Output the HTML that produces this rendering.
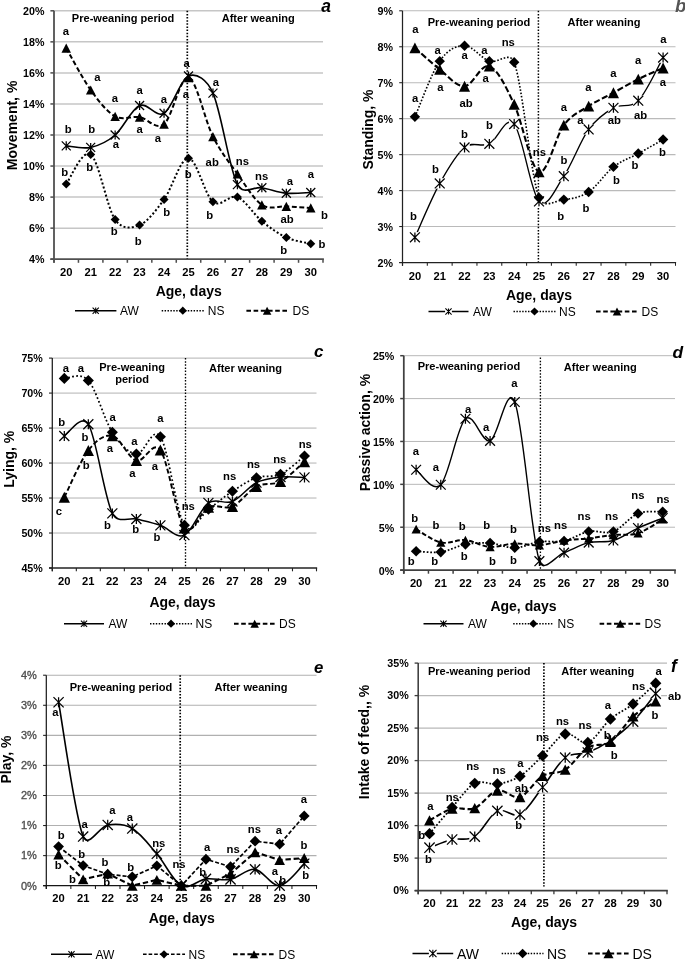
<!DOCTYPE html>
<html lang="en"><head><meta charset="utf-8"><title>Behaviour of piglets before and after weaning</title>
<style>html,body{margin:0;padding:0;background:#fff}body{width:685px;height:959px;overflow:hidden}svg{display:block;font-family:'Liberation Sans', sans-serif}</style></head><body>
<svg width="685" height="959" viewBox="0 0 685 959">
<rect width="685" height="959" fill="#fff"/>
<g>
<line x1="54" y1="228.15" x2="323" y2="228.15" stroke="#c6c6c6" stroke-width="1.5"/>
<line x1="54" y1="197.1" x2="323" y2="197.1" stroke="#c6c6c6" stroke-width="1.5"/>
<line x1="54" y1="166.05" x2="323" y2="166.05" stroke="#c6c6c6" stroke-width="1.5"/>
<line x1="54" y1="135" x2="323" y2="135" stroke="#c6c6c6" stroke-width="1.5"/>
<line x1="54" y1="103.95" x2="323" y2="103.95" stroke="#c6c6c6" stroke-width="1.5"/>
<line x1="54" y1="72.9" x2="323" y2="72.9" stroke="#c6c6c6" stroke-width="1.5"/>
<line x1="54" y1="41.85" x2="323" y2="41.85" stroke="#c6c6c6" stroke-width="1.5"/>
<line x1="54" y1="10.8" x2="323" y2="10.8" stroke="#c6c6c6" stroke-width="1.5"/>
<line x1="187.3" y1="10.8" x2="187.3" y2="259.2" stroke="#000" stroke-width="1.7" stroke-dasharray="1.5 1.63"/>
<line x1="54" y1="10.8" x2="54" y2="262.8" stroke="#505050" stroke-width="1.8"/>
<line x1="50.4" y1="259.2" x2="323.9" y2="259.2" stroke="#505050" stroke-width="1.8"/>
<line x1="50.4" y1="259.2" x2="54" y2="259.2" stroke="#505050" stroke-width="1.53"/>
<text x="44.5" y="263" text-anchor="end" font-size="10.7" font-weight="bold" fill="#000">4%</text>
<line x1="50.4" y1="228.15" x2="54" y2="228.15" stroke="#505050" stroke-width="1.53"/>
<text x="44.5" y="231.95" text-anchor="end" font-size="10.7" font-weight="bold" fill="#000">6%</text>
<line x1="50.4" y1="197.1" x2="54" y2="197.1" stroke="#505050" stroke-width="1.53"/>
<text x="44.5" y="200.9" text-anchor="end" font-size="10.7" font-weight="bold" fill="#000">8%</text>
<line x1="50.4" y1="166.05" x2="54" y2="166.05" stroke="#505050" stroke-width="1.53"/>
<text x="44.5" y="169.85" text-anchor="end" font-size="10.7" font-weight="bold" fill="#000">10%</text>
<line x1="50.4" y1="135" x2="54" y2="135" stroke="#505050" stroke-width="1.53"/>
<text x="44.5" y="138.8" text-anchor="end" font-size="10.7" font-weight="bold" fill="#000">12%</text>
<line x1="50.4" y1="103.95" x2="54" y2="103.95" stroke="#505050" stroke-width="1.53"/>
<text x="44.5" y="107.75" text-anchor="end" font-size="10.7" font-weight="bold" fill="#000">14%</text>
<line x1="50.4" y1="72.9" x2="54" y2="72.9" stroke="#505050" stroke-width="1.53"/>
<text x="44.5" y="76.7" text-anchor="end" font-size="10.7" font-weight="bold" fill="#000">16%</text>
<line x1="50.4" y1="41.85" x2="54" y2="41.85" stroke="#505050" stroke-width="1.53"/>
<text x="44.5" y="45.65" text-anchor="end" font-size="10.7" font-weight="bold" fill="#000">18%</text>
<line x1="50.4" y1="10.8" x2="54" y2="10.8" stroke="#505050" stroke-width="1.53"/>
<text x="44.5" y="14.6" text-anchor="end" font-size="10.7" font-weight="bold" fill="#000">20%</text>
<line x1="54" y1="259.2" x2="54" y2="262.8" stroke="#505050" stroke-width="1.53"/>
<line x1="78.45" y1="259.2" x2="78.45" y2="262.8" stroke="#505050" stroke-width="1.53"/>
<line x1="102.91" y1="259.2" x2="102.91" y2="262.8" stroke="#505050" stroke-width="1.53"/>
<line x1="127.36" y1="259.2" x2="127.36" y2="262.8" stroke="#505050" stroke-width="1.53"/>
<line x1="151.82" y1="259.2" x2="151.82" y2="262.8" stroke="#505050" stroke-width="1.53"/>
<line x1="176.27" y1="259.2" x2="176.27" y2="262.8" stroke="#505050" stroke-width="1.53"/>
<line x1="200.73" y1="259.2" x2="200.73" y2="262.8" stroke="#505050" stroke-width="1.53"/>
<line x1="225.18" y1="259.2" x2="225.18" y2="262.8" stroke="#505050" stroke-width="1.53"/>
<line x1="249.64" y1="259.2" x2="249.64" y2="262.8" stroke="#505050" stroke-width="1.53"/>
<line x1="274.09" y1="259.2" x2="274.09" y2="262.8" stroke="#505050" stroke-width="1.53"/>
<line x1="298.55" y1="259.2" x2="298.55" y2="262.8" stroke="#505050" stroke-width="1.53"/>
<line x1="323" y1="259.2" x2="323" y2="262.8" stroke="#505050" stroke-width="1.53"/>
<text x="66.23" y="276" text-anchor="middle" font-size="11.2" font-weight="bold">20</text>
<text x="90.68" y="276" text-anchor="middle" font-size="11.2" font-weight="bold">21</text>
<text x="115.14" y="276" text-anchor="middle" font-size="11.2" font-weight="bold">22</text>
<text x="139.59" y="276" text-anchor="middle" font-size="11.2" font-weight="bold">23</text>
<text x="164.05" y="276" text-anchor="middle" font-size="11.2" font-weight="bold">24</text>
<text x="188.5" y="276" text-anchor="middle" font-size="11.2" font-weight="bold">25</text>
<text x="212.95" y="276" text-anchor="middle" font-size="11.2" font-weight="bold">26</text>
<text x="237.41" y="276" text-anchor="middle" font-size="11.2" font-weight="bold">27</text>
<text x="261.86" y="276" text-anchor="middle" font-size="11.2" font-weight="bold">28</text>
<text x="286.32" y="276" text-anchor="middle" font-size="11.2" font-weight="bold">29</text>
<text x="310.77" y="276" text-anchor="middle" font-size="11.2" font-weight="bold">30</text>
<path d="M66.23,145.87 C70.3,146.13 82.53,149.23 90.68,147.42 C98.83,145.61 106.98,141.99 115.14,135 C123.29,128.01 131.44,109.12 139.59,105.5 C147.74,101.88 155.89,118.18 164.05,113.26 C172.2,108.35 180.35,79.37 188.5,76 C196.65,72.64 206.83,79.48 212.95,93.08 C221.11,111.2 229.26,168.9 237.41,184.68 C243.06,195.63 253.71,186.36 261.86,187.78 C270.02,189.21 278.17,192.44 286.32,193.22 C294.47,194 306.7,192.57 310.77,192.44" fill="none" stroke="#000" stroke-width="1.6"/>
<path d="M61.73,141.37 L70.73,150.37 M61.73,150.37 L70.73,141.37 M66.23,141.37 L66.23,150.37" stroke="#000" stroke-width="1.25" fill="none"/>
<path d="M86.18,142.92 L95.18,151.92 M86.18,151.92 L95.18,142.92 M90.68,142.92 L90.68,151.92" stroke="#000" stroke-width="1.25" fill="none"/>
<path d="M110.64,130.5 L119.64,139.5 M110.64,139.5 L119.64,130.5 M115.14,130.5 L115.14,139.5" stroke="#000" stroke-width="1.25" fill="none"/>
<path d="M135.09,101 L144.09,110 M135.09,110 L144.09,101 M139.59,101 L139.59,110" stroke="#000" stroke-width="1.25" fill="none"/>
<path d="M159.55,108.76 L168.55,117.76 M159.55,117.76 L168.55,108.76 M164.05,108.76 L164.05,117.76" stroke="#000" stroke-width="1.25" fill="none"/>
<path d="M184,71.5 L193,80.5 M184,80.5 L193,71.5 M188.5,71.5 L188.5,80.5" stroke="#000" stroke-width="1.25" fill="none"/>
<path d="M208.45,88.58 L217.45,97.58 M208.45,97.58 L217.45,88.58 M212.95,88.58 L212.95,97.58" stroke="#000" stroke-width="1.25" fill="none"/>
<path d="M232.91,180.18 L241.91,189.18 M232.91,189.18 L241.91,180.18 M237.41,180.18 L237.41,189.18" stroke="#000" stroke-width="1.25" fill="none"/>
<path d="M257.36,183.28 L266.36,192.28 M257.36,192.28 L266.36,183.28 M261.86,183.28 L261.86,192.28" stroke="#000" stroke-width="1.25" fill="none"/>
<path d="M281.82,188.72 L290.82,197.72 M281.82,197.72 L290.82,188.72 M286.32,188.72 L286.32,197.72" stroke="#000" stroke-width="1.25" fill="none"/>
<path d="M306.27,187.94 L315.27,196.94 M306.27,196.94 L315.27,187.94 M310.77,187.94 L310.77,196.94" stroke="#000" stroke-width="1.25" fill="none"/>
<path d="M66.23,183.9 C70.3,178.99 82.53,148.46 90.68,154.41 C98.83,160.36 106.98,207.84 115.14,219.61 C122.27,229.91 131.44,228.41 139.59,225.04 C147.74,221.68 155.89,210.56 164.05,199.43 C172.2,188.3 180.35,157.9 188.5,158.29 C196.65,158.68 204.8,195.29 212.95,201.76 C221.11,208.23 229.26,193.87 237.41,197.1 C245.56,200.33 253.71,214.44 261.86,221.16 C270.02,227.89 278.17,233.71 286.32,237.46 C294.47,241.22 306.7,242.64 310.77,243.67" fill="none" stroke="#000" stroke-width="2" stroke-dasharray="2 2.2"/>
<path d="M66.23,179.4 L70.73,183.9 L66.23,188.4 L61.73,183.9Z" fill="#000"/>
<path d="M90.68,149.91 L95.18,154.41 L90.68,158.91 L86.18,154.41Z" fill="#000"/>
<path d="M115.14,215.11 L119.64,219.61 L115.14,224.11 L110.64,219.61Z" fill="#000"/>
<path d="M139.59,220.54 L144.09,225.04 L139.59,229.54 L135.09,225.04Z" fill="#000"/>
<path d="M164.05,194.93 L168.55,199.43 L164.05,203.93 L159.55,199.43Z" fill="#000"/>
<path d="M188.5,153.79 L193,158.29 L188.5,162.79 L184,158.29Z" fill="#000"/>
<path d="M212.95,197.26 L217.45,201.76 L212.95,206.26 L208.45,201.76Z" fill="#000"/>
<path d="M237.41,192.6 L241.91,197.1 L237.41,201.6 L232.91,197.1Z" fill="#000"/>
<path d="M261.86,216.66 L266.36,221.16 L261.86,225.66 L257.36,221.16Z" fill="#000"/>
<path d="M286.32,232.96 L290.82,237.46 L286.32,241.96 L281.82,237.46Z" fill="#000"/>
<path d="M310.77,239.17 L315.27,243.67 L310.77,248.17 L306.27,243.67Z" fill="#000"/>
<path d="M66.23,48.06 C70.3,55.05 82.53,78.59 90.68,89.98 C98.83,101.36 106.98,111.84 115.14,116.37 C123.29,120.9 131.44,115.85 139.59,117.15 C147.74,118.44 155.89,130.73 164.05,124.13 C172.2,117.53 180.35,75.49 188.5,77.56 C196.65,79.63 204.8,120.51 212.95,136.55 C221.11,152.59 229.26,162.43 237.41,173.81 C245.56,185.2 253.71,199.43 261.86,204.86 C270.02,210.3 278.17,205.9 286.32,206.41 C294.47,206.93 306.7,207.71 310.77,207.97" fill="none" stroke="#000" stroke-width="2" stroke-dasharray="4.8 2.6"/>
<path d="M66.23,43.46 L70.98,52.66 L61.48,52.66Z" fill="#000"/>
<path d="M90.68,85.38 L95.43,94.58 L85.93,94.58Z" fill="#000"/>
<path d="M115.14,111.77 L119.89,120.97 L110.39,120.97Z" fill="#000"/>
<path d="M139.59,112.55 L144.34,121.75 L134.84,121.75Z" fill="#000"/>
<path d="M164.05,119.53 L168.8,128.73 L159.3,128.73Z" fill="#000"/>
<path d="M188.5,72.96 L193.25,82.16 L183.75,82.16Z" fill="#000"/>
<path d="M212.95,131.95 L217.7,141.15 L208.2,141.15Z" fill="#000"/>
<path d="M237.41,169.21 L242.16,178.41 L232.66,178.41Z" fill="#000"/>
<path d="M261.86,200.26 L266.61,209.46 L257.11,209.46Z" fill="#000"/>
<path d="M286.32,201.81 L291.07,211.01 L281.57,211.01Z" fill="#000"/>
<path d="M310.77,203.37 L315.52,212.57 L306.02,212.57Z" fill="#000"/>
<text x="188.7" y="296" text-anchor="middle" font-size="14" font-weight="bold">Age, days</text>
<text transform="translate(17,125.4) rotate(-90) scale(1,1)" text-anchor="middle" font-size="14" font-weight="bold">Movement, %</text>
<text x="123.1" y="22.4" text-anchor="middle" font-size="11.05" font-weight="bold">Pre-weaning period</text>
<text x="258.2" y="22.4" text-anchor="middle" font-size="11.05" font-weight="bold">After weaning</text>
<text x="321.3" y="12.2" font-size="17.5" font-weight="bold" font-style="italic" fill="#000">a</text>
<text x="66" y="34.7" text-anchor="middle" font-size="11.3" font-weight="bold">a</text>
<text x="97.5" y="80.7" text-anchor="middle" font-size="11.3" font-weight="bold">a</text>
<text x="115" y="101.7" text-anchor="middle" font-size="11.3" font-weight="bold">a</text>
<text x="139.7" y="93.7" text-anchor="middle" font-size="11.3" font-weight="bold">a</text>
<text x="163.8" y="103.2" text-anchor="middle" font-size="11.3" font-weight="bold">a</text>
<text x="68.3" y="133.1" text-anchor="middle" font-size="11.3" font-weight="bold">b</text>
<text x="91.7" y="133.1" text-anchor="middle" font-size="11.3" font-weight="bold">b</text>
<text x="116" y="147.7" text-anchor="middle" font-size="11.3" font-weight="bold">a</text>
<text x="139.7" y="132.7" text-anchor="middle" font-size="11.3" font-weight="bold">a</text>
<text x="157.8" y="141.7" text-anchor="middle" font-size="11.3" font-weight="bold">a</text>
<text x="186.6" y="67.3" text-anchor="middle" font-size="11.3" font-weight="bold">a</text>
<text x="216" y="85.7" text-anchor="middle" font-size="11.3" font-weight="bold">a</text>
<text x="185.8" y="97.7" text-anchor="middle" font-size="11.3" font-weight="bold">a</text>
<text x="64.6" y="175.5" text-anchor="middle" font-size="11.3" font-weight="bold">b</text>
<text x="89.7" y="170.5" text-anchor="middle" font-size="11.3" font-weight="bold">b</text>
<text x="114.3" y="235.3" text-anchor="middle" font-size="11.3" font-weight="bold">b</text>
<text x="138.2" y="244.7" text-anchor="middle" font-size="11.3" font-weight="bold">b</text>
<text x="166.6" y="215.7" text-anchor="middle" font-size="11.3" font-weight="bold">b</text>
<text x="188.3" y="178" text-anchor="middle" font-size="11.3" font-weight="bold">b</text>
<text x="212.2" y="165.7" text-anchor="middle" font-size="11.3" font-weight="bold">ab</text>
<text x="242.4" y="165.2" text-anchor="middle" font-size="11.3" font-weight="bold">ns</text>
<text x="261.7" y="179.5" text-anchor="middle" font-size="11.3" font-weight="bold">ns</text>
<text x="290" y="185.3" text-anchor="middle" font-size="11.3" font-weight="bold">a</text>
<text x="311" y="177.7" text-anchor="middle" font-size="11.3" font-weight="bold">a</text>
<text x="209.7" y="218.5" text-anchor="middle" font-size="11.3" font-weight="bold">b</text>
<text x="287" y="223.2" text-anchor="middle" font-size="11.3" font-weight="bold">ab</text>
<text x="324.5" y="218.5" text-anchor="middle" font-size="11.3" font-weight="bold">b</text>
<text x="283.8" y="254.2" text-anchor="middle" font-size="11.3" font-weight="bold">b</text>
<text x="322" y="247.7" text-anchor="middle" font-size="11.3" font-weight="bold">b</text>
<line x1="75" y1="310.7" x2="116.4" y2="310.7" stroke="#000" stroke-width="1.6"/>
<path d="M92.6,307.6 L98.8,313.8 M92.6,313.8 L98.8,307.6 M95.7,307.6 L95.7,313.8" stroke="#000" stroke-width="1.1" fill="none"/>
<text x="120" y="315.02" font-size="12">AW</text>
<line x1="161.7" y1="310.7" x2="203.9" y2="310.7" stroke="#000" stroke-width="1.5" stroke-dasharray="1.45 1.45"/>
<path d="M182.8,306.6 L186.9,310.7 L182.8,314.8 L178.7,310.7Z" fill="#000"/>
<text x="207.8" y="315.02" font-size="12">NS</text>
<line x1="246.4" y1="310.7" x2="287.8" y2="310.7" stroke="#000" stroke-width="2" stroke-dasharray="4.6 2.6"/>
<path d="M267.1,306.75 L271.35,314.65 L262.85,314.65Z" fill="#000"/>
<text x="292.6" y="315.02" font-size="12">DS</text>
</g>
<g>
<line x1="402.5" y1="226.54" x2="675.5" y2="226.54" stroke="#bababa" stroke-width="1.1"/>
<line x1="402.5" y1="190.59" x2="675.5" y2="190.59" stroke="#bababa" stroke-width="1.1"/>
<line x1="402.5" y1="154.63" x2="675.5" y2="154.63" stroke="#bababa" stroke-width="1.1"/>
<line x1="402.5" y1="118.67" x2="675.5" y2="118.67" stroke="#bababa" stroke-width="1.1"/>
<line x1="402.5" y1="82.71" x2="675.5" y2="82.71" stroke="#bababa" stroke-width="1.1"/>
<line x1="402.5" y1="46.76" x2="675.5" y2="46.76" stroke="#bababa" stroke-width="1.1"/>
<line x1="402.5" y1="10.8" x2="675.5" y2="10.8" stroke="#bababa" stroke-width="1.1"/>
<line x1="538.4" y1="10.8" x2="538.4" y2="262.5" stroke="#000" stroke-width="1.5" stroke-dasharray="1.5 1.63"/>
<line x1="402.5" y1="10.8" x2="402.5" y2="265.8" stroke="#222" stroke-width="1.25"/>
<line x1="399.2" y1="262.5" x2="676.12" y2="262.5" stroke="#222" stroke-width="1.25"/>
<line x1="399.2" y1="262.5" x2="402.5" y2="262.5" stroke="#222" stroke-width="1.0625"/>
<text x="393" y="266.9" text-anchor="end" font-size="10.7" font-weight="bold" fill="#000">2%</text>
<line x1="399.2" y1="226.54" x2="402.5" y2="226.54" stroke="#222" stroke-width="1.0625"/>
<text x="393" y="230.94" text-anchor="end" font-size="10.7" font-weight="bold" fill="#000">3%</text>
<line x1="399.2" y1="190.59" x2="402.5" y2="190.59" stroke="#222" stroke-width="1.0625"/>
<text x="393" y="194.99" text-anchor="end" font-size="10.7" font-weight="bold" fill="#000">4%</text>
<line x1="399.2" y1="154.63" x2="402.5" y2="154.63" stroke="#222" stroke-width="1.0625"/>
<text x="393" y="159.03" text-anchor="end" font-size="10.7" font-weight="bold" fill="#000">5%</text>
<line x1="399.2" y1="118.67" x2="402.5" y2="118.67" stroke="#222" stroke-width="1.0625"/>
<text x="393" y="123.07" text-anchor="end" font-size="10.7" font-weight="bold" fill="#000">6%</text>
<line x1="399.2" y1="82.71" x2="402.5" y2="82.71" stroke="#222" stroke-width="1.0625"/>
<text x="393" y="87.11" text-anchor="end" font-size="10.7" font-weight="bold" fill="#000">7%</text>
<line x1="399.2" y1="46.76" x2="402.5" y2="46.76" stroke="#222" stroke-width="1.0625"/>
<text x="393" y="51.16" text-anchor="end" font-size="10.7" font-weight="bold" fill="#000">8%</text>
<line x1="399.2" y1="10.8" x2="402.5" y2="10.8" stroke="#222" stroke-width="1.0625"/>
<text x="393" y="15.2" text-anchor="end" font-size="10.7" font-weight="bold" fill="#000">9%</text>
<line x1="402.5" y1="262.5" x2="402.5" y2="265.8" stroke="#222" stroke-width="1.0625"/>
<line x1="427.32" y1="262.5" x2="427.32" y2="265.8" stroke="#222" stroke-width="1.0625"/>
<line x1="452.14" y1="262.5" x2="452.14" y2="265.8" stroke="#222" stroke-width="1.0625"/>
<line x1="476.95" y1="262.5" x2="476.95" y2="265.8" stroke="#222" stroke-width="1.0625"/>
<line x1="501.77" y1="262.5" x2="501.77" y2="265.8" stroke="#222" stroke-width="1.0625"/>
<line x1="526.59" y1="262.5" x2="526.59" y2="265.8" stroke="#222" stroke-width="1.0625"/>
<line x1="551.41" y1="262.5" x2="551.41" y2="265.8" stroke="#222" stroke-width="1.0625"/>
<line x1="576.23" y1="262.5" x2="576.23" y2="265.8" stroke="#222" stroke-width="1.0625"/>
<line x1="601.05" y1="262.5" x2="601.05" y2="265.8" stroke="#222" stroke-width="1.0625"/>
<line x1="625.86" y1="262.5" x2="625.86" y2="265.8" stroke="#222" stroke-width="1.0625"/>
<line x1="650.68" y1="262.5" x2="650.68" y2="265.8" stroke="#222" stroke-width="1.0625"/>
<line x1="675.5" y1="262.5" x2="675.5" y2="265.8" stroke="#222" stroke-width="1.0625"/>
<text x="414.91" y="280" text-anchor="middle" font-size="11.2" font-weight="bold">20</text>
<text x="439.73" y="280" text-anchor="middle" font-size="11.2" font-weight="bold">21</text>
<text x="464.55" y="280" text-anchor="middle" font-size="11.2" font-weight="bold">22</text>
<text x="489.36" y="280" text-anchor="middle" font-size="11.2" font-weight="bold">23</text>
<text x="514.18" y="280" text-anchor="middle" font-size="11.2" font-weight="bold">24</text>
<text x="539" y="280" text-anchor="middle" font-size="11.2" font-weight="bold">25</text>
<text x="563.82" y="280" text-anchor="middle" font-size="11.2" font-weight="bold">26</text>
<text x="588.64" y="280" text-anchor="middle" font-size="11.2" font-weight="bold">27</text>
<text x="613.45" y="280" text-anchor="middle" font-size="11.2" font-weight="bold">28</text>
<text x="638.27" y="280" text-anchor="middle" font-size="11.2" font-weight="bold">29</text>
<text x="663.09" y="280" text-anchor="middle" font-size="11.2" font-weight="bold">30</text>
<path d="M414.91,237.33 C419.05,228.34 431.45,198.38 439.73,183.39 C448,168.41 456.27,154.03 464.55,147.44 C472.82,140.84 481.09,147.74 489.36,143.84 C497.64,139.95 505.91,114.48 514.18,124.07 C522.45,133.65 530.73,192.68 539,201.37 C547.27,210.06 555.55,188.19 563.82,176.2 C572.09,164.22 580.36,140.84 588.64,129.46 C596.91,118.07 605.18,112.68 613.45,107.88 C621.73,103.09 630,109.08 638.27,100.69 C646.55,92.3 658.95,64.74 663.09,57.54" fill="none" stroke="#000" stroke-width="1.35"/>
<rect x="409.66" y="232.08" width="10.5" height="10.5" fill="#fff"/><path d="M409.96,232.38 L419.86,242.28 M409.96,242.28 L419.86,232.38 M414.91,232.38 L414.91,242.28" stroke="#000" stroke-width="1.25" fill="none"/>
<rect x="434.48" y="178.14" width="10.5" height="10.5" fill="#fff"/><path d="M434.78,178.44 L444.68,188.34 M434.78,188.34 L444.68,178.44 M439.73,178.44 L439.73,188.34" stroke="#000" stroke-width="1.25" fill="none"/>
<rect x="459.3" y="142.19" width="10.5" height="10.5" fill="#fff"/><path d="M459.6,142.49 L469.5,152.39 M459.6,152.39 L469.5,142.49 M464.55,142.49 L464.55,152.39" stroke="#000" stroke-width="1.25" fill="none"/>
<rect x="484.11" y="138.59" width="10.5" height="10.5" fill="#fff"/><path d="M484.41,138.89 L494.31,148.79 M484.41,148.79 L494.31,138.89 M489.36,138.89 L489.36,148.79" stroke="#000" stroke-width="1.25" fill="none"/>
<rect x="508.93" y="118.82" width="10.5" height="10.5" fill="#fff"/><path d="M509.23,119.12 L519.13,129.02 M509.23,129.02 L519.13,119.12 M514.18,119.12 L514.18,129.02" stroke="#000" stroke-width="1.25" fill="none"/>
<rect x="533.75" y="196.12" width="10.5" height="10.5" fill="#fff"/><path d="M534.05,196.42 L543.95,206.32 M534.05,206.32 L543.95,196.42 M539,196.42 L539,206.32" stroke="#000" stroke-width="1.25" fill="none"/>
<rect x="558.57" y="170.95" width="10.5" height="10.5" fill="#fff"/><path d="M558.87,171.25 L568.77,181.15 M558.87,181.15 L568.77,171.25 M563.82,171.25 L563.82,181.15" stroke="#000" stroke-width="1.25" fill="none"/>
<rect x="583.39" y="124.21" width="10.5" height="10.5" fill="#fff"/><path d="M583.69,124.51 L593.59,134.41 M583.69,134.41 L593.59,124.51 M588.64,124.51 L588.64,134.41" stroke="#000" stroke-width="1.25" fill="none"/>
<rect x="608.2" y="102.63" width="10.5" height="10.5" fill="#fff"/><path d="M608.5,102.93 L618.4,112.83 M608.5,112.83 L618.4,102.93 M613.45,102.93 L613.45,112.83" stroke="#000" stroke-width="1.25" fill="none"/>
<rect x="633.02" y="95.44" width="10.5" height="10.5" fill="#fff"/><path d="M633.32,95.74 L643.22,105.64 M633.32,105.64 L643.22,95.74 M638.27,95.74 L638.27,105.64" stroke="#000" stroke-width="1.25" fill="none"/>
<rect x="657.84" y="52.29" width="10.5" height="10.5" fill="#fff"/><path d="M658.14,52.59 L668.04,62.49 M658.14,62.49 L668.04,52.59 M663.09,52.59 L663.09,62.49" stroke="#000" stroke-width="1.25" fill="none"/>
<path d="M414.91,116.87 C419.05,107.58 431.45,73.01 439.73,61.14 C448,49.27 456.27,45.68 464.55,45.68 C472.82,45.68 481.09,58.38 489.36,61.14 C497.64,63.9 509.94,50.54 514.18,62.22 C522.45,84.99 530.73,174.88 539,197.78 C543.23,209.48 555.55,200.53 563.82,199.57 C572.09,198.62 580.36,197.48 588.64,192.02 C596.91,186.57 605.18,173.27 613.45,166.85 C621.73,160.44 630,158.1 638.27,153.55 C646.55,149 658.95,141.86 663.09,139.53" fill="none" stroke="#000" stroke-width="1.65" stroke-dasharray="1.6 1.8"/>
<path d="M414.91,111.67 L420.11,116.87 L414.91,122.07 L409.71,116.87Z" fill="#000"/>
<path d="M439.73,55.94 L444.93,61.14 L439.73,66.34 L434.53,61.14Z" fill="#000"/>
<path d="M464.55,40.48 L469.75,45.68 L464.55,50.88 L459.35,45.68Z" fill="#000"/>
<path d="M489.36,55.94 L494.56,61.14 L489.36,66.34 L484.16,61.14Z" fill="#000"/>
<path d="M514.18,57.02 L519.38,62.22 L514.18,67.42 L508.98,62.22Z" fill="#000"/>
<path d="M539,192.58 L544.2,197.78 L539,202.98 L533.8,197.78Z" fill="#000"/>
<path d="M563.82,194.38 L569.02,199.57 L563.82,204.77 L558.62,199.57Z" fill="#000"/>
<path d="M588.64,186.82 L593.84,192.02 L588.64,197.22 L583.44,192.02Z" fill="#000"/>
<path d="M613.45,161.65 L618.65,166.85 L613.45,172.05 L608.25,166.85Z" fill="#000"/>
<path d="M638.27,148.35 L643.47,153.55 L638.27,158.75 L633.07,153.55Z" fill="#000"/>
<path d="M663.09,134.33 L668.29,139.53 L663.09,144.73 L657.89,139.53Z" fill="#000"/>
<path d="M414.91,47.84 C419.05,51.43 431.45,63 439.73,69.41 C448,75.82 456.27,86.85 464.55,86.31 C472.82,85.77 481.09,63.18 489.36,66.17 C497.64,69.17 505.91,86.67 514.18,104.29 C522.45,121.91 530.73,168.41 539,171.89 C547.27,175.36 555.55,136.11 563.82,125.14 C572.09,114.18 580.36,111.48 588.64,106.09 C596.91,100.69 605.18,97.28 613.45,92.78 C621.73,88.29 630,83.25 638.27,79.12 C646.55,74.98 658.95,69.83 663.09,67.97" fill="none" stroke="#000" stroke-width="2.1" stroke-dasharray="6.2 2.6"/>
<path d="M414.91,42.39 L420.46,53.29 L409.36,53.29Z" fill="#000"/>
<path d="M439.73,63.96 L445.28,74.86 L434.18,74.86Z" fill="#000"/>
<path d="M464.55,80.86 L470.1,91.76 L459,91.76Z" fill="#000"/>
<path d="M489.36,60.72 L494.91,71.62 L483.81,71.62Z" fill="#000"/>
<path d="M514.18,98.84 L519.73,109.74 L508.63,109.74Z" fill="#000"/>
<path d="M539,166.44 L544.55,177.34 L533.45,177.34Z" fill="#000"/>
<path d="M563.82,119.69 L569.37,130.59 L558.27,130.59Z" fill="#000"/>
<path d="M588.64,100.64 L594.19,111.54 L583.09,111.54Z" fill="#000"/>
<path d="M613.45,87.33 L619,98.23 L607.9,98.23Z" fill="#000"/>
<path d="M638.27,73.67 L643.82,84.57 L632.72,84.57Z" fill="#000"/>
<path d="M663.09,62.52 L668.64,73.42 L657.54,73.42Z" fill="#000"/>
<text x="539" y="300" text-anchor="middle" font-size="14" font-weight="bold">Age, days</text>
<text transform="translate(372.6,129.6) rotate(-90) scale(1,1.09)" text-anchor="middle" font-size="14" font-weight="bold">Standing, %</text>
<text x="479" y="26" text-anchor="middle" font-size="11.05" font-weight="bold">Pre-weaning period</text>
<text x="604" y="26.3" text-anchor="middle" font-size="11.05" font-weight="bold">After weaning</text>
<text x="675" y="12.3" font-size="18.5" font-weight="bold" font-style="italic" fill="#555">b</text>
<text x="415.4" y="33.4" text-anchor="middle" font-size="11.3" font-weight="bold">a</text>
<text x="437.7" y="53.7" text-anchor="middle" font-size="11.3" font-weight="bold">a</text>
<text x="464.6" y="59.2" text-anchor="middle" font-size="11.3" font-weight="bold">a</text>
<text x="484.5" y="53.7" text-anchor="middle" font-size="11.3" font-weight="bold">a</text>
<text x="508.3" y="45.9" text-anchor="middle" font-size="11.3" font-weight="bold">ns</text>
<text x="440.5" y="90.7" text-anchor="middle" font-size="11.3" font-weight="bold">a</text>
<text x="485.7" y="81.7" text-anchor="middle" font-size="11.3" font-weight="bold">a</text>
<text x="415.1" y="102.4" text-anchor="middle" font-size="11.3" font-weight="bold">a</text>
<text x="466.1" y="106.7" text-anchor="middle" font-size="11.3" font-weight="bold">ab</text>
<text x="464.4" y="137.7" text-anchor="middle" font-size="11.3" font-weight="bold">b</text>
<text x="489.5" y="129.3" text-anchor="middle" font-size="11.3" font-weight="bold">b</text>
<text x="435.5" y="172.5" text-anchor="middle" font-size="11.3" font-weight="bold">b</text>
<text x="413.4" y="220.2" text-anchor="middle" font-size="11.3" font-weight="bold">b</text>
<text x="663.3" y="42.9" text-anchor="middle" font-size="11.3" font-weight="bold">a</text>
<text x="638.1" y="64.3" text-anchor="middle" font-size="11.3" font-weight="bold">a</text>
<text x="613.5" y="77.3" text-anchor="middle" font-size="11.3" font-weight="bold">a</text>
<text x="588.4" y="91.1" text-anchor="middle" font-size="11.3" font-weight="bold">a</text>
<text x="564" y="110.7" text-anchor="middle" font-size="11.3" font-weight="bold">a</text>
<text x="580.3" y="123.7" text-anchor="middle" font-size="11.3" font-weight="bold">a</text>
<text x="663" y="85.7" text-anchor="middle" font-size="11.3" font-weight="bold">a</text>
<text x="614.3" y="123.5" text-anchor="middle" font-size="11.3" font-weight="bold">ab</text>
<text x="640.6" y="118.5" text-anchor="middle" font-size="11.3" font-weight="bold">ab</text>
<text x="539.4" y="155.5" text-anchor="middle" font-size="11.3" font-weight="bold">ns</text>
<text x="662.5" y="155.7" text-anchor="middle" font-size="11.3" font-weight="bold">b</text>
<text x="564" y="163.7" text-anchor="middle" font-size="11.3" font-weight="bold">b</text>
<text x="634.9" y="169.2" text-anchor="middle" font-size="11.3" font-weight="bold">b</text>
<text x="616.5" y="183.7" text-anchor="middle" font-size="11.3" font-weight="bold">b</text>
<text x="585.9" y="212.2" text-anchor="middle" font-size="11.3" font-weight="bold">b</text>
<text x="560.7" y="220.2" text-anchor="middle" font-size="11.3" font-weight="bold">b</text>
<line x1="428.5" y1="311.5" x2="468.5" y2="311.5" stroke="#000" stroke-width="1.6"/>
<rect x="445.1" y="308.1" width="6.8" height="6.8" fill="#fff"/><path d="M445.4,308.4 L451.6,314.6 M445.4,314.6 L451.6,308.4 M448.5,308.4 L448.5,314.6" stroke="#000" stroke-width="1.1" fill="none"/>
<text x="473" y="315.82" font-size="12">AW</text>
<line x1="513.5" y1="311.5" x2="555.5" y2="311.5" stroke="#000" stroke-width="1.5" stroke-dasharray="1.45 1.45"/>
<path d="M534.5,307.4 L538.6,311.5 L534.5,315.6 L530.4,311.5Z" fill="#000"/>
<text x="559" y="315.82" font-size="12">NS</text>
<line x1="596" y1="311.5" x2="638" y2="311.5" stroke="#000" stroke-width="2" stroke-dasharray="4.6 2.6"/>
<path d="M617,307.55 L621.25,315.45 L612.75,315.45Z" fill="#000"/>
<text x="641.5" y="315.82" font-size="12">DS</text>
</g>
<g>
<line x1="52.3" y1="533.02" x2="316.5" y2="533.02" stroke="#b2b2b2" stroke-width="1.0"/>
<line x1="52.3" y1="498.03" x2="316.5" y2="498.03" stroke="#b2b2b2" stroke-width="1.0"/>
<line x1="52.3" y1="463.05" x2="316.5" y2="463.05" stroke="#b2b2b2" stroke-width="1.0"/>
<line x1="52.3" y1="428.07" x2="316.5" y2="428.07" stroke="#b2b2b2" stroke-width="1.0"/>
<line x1="52.3" y1="393.08" x2="316.5" y2="393.08" stroke="#b2b2b2" stroke-width="1.0"/>
<line x1="52.3" y1="358.1" x2="316.5" y2="358.1" stroke="#b2b2b2" stroke-width="1.0"/>
<line x1="185.5" y1="358.1" x2="185.5" y2="568" stroke="#000" stroke-width="1.35" stroke-dasharray="1.5 1.63"/>
<line x1="52.3" y1="358.1" x2="52.3" y2="571.3" stroke="#222" stroke-width="1.3"/>
<line x1="49" y1="568" x2="317.15" y2="568" stroke="#222" stroke-width="1.3"/>
<line x1="49" y1="568" x2="52.3" y2="568" stroke="#222" stroke-width="1.105"/>
<text x="42.8" y="571.8" text-anchor="end" font-size="10.7" font-weight="bold" fill="#000">45%</text>
<line x1="49" y1="533.02" x2="52.3" y2="533.02" stroke="#222" stroke-width="1.105"/>
<text x="42.8" y="536.82" text-anchor="end" font-size="10.7" font-weight="bold" fill="#000">50%</text>
<line x1="49" y1="498.03" x2="52.3" y2="498.03" stroke="#222" stroke-width="1.105"/>
<text x="42.8" y="501.83" text-anchor="end" font-size="10.7" font-weight="bold" fill="#000">55%</text>
<line x1="49" y1="463.05" x2="52.3" y2="463.05" stroke="#222" stroke-width="1.105"/>
<text x="42.8" y="466.85" text-anchor="end" font-size="10.7" font-weight="bold" fill="#000">60%</text>
<line x1="49" y1="428.07" x2="52.3" y2="428.07" stroke="#222" stroke-width="1.105"/>
<text x="42.8" y="431.87" text-anchor="end" font-size="10.7" font-weight="bold" fill="#000">65%</text>
<line x1="49" y1="393.08" x2="52.3" y2="393.08" stroke="#222" stroke-width="1.105"/>
<text x="42.8" y="396.88" text-anchor="end" font-size="10.7" font-weight="bold" fill="#000">70%</text>
<line x1="49" y1="358.1" x2="52.3" y2="358.1" stroke="#222" stroke-width="1.105"/>
<text x="42.8" y="361.9" text-anchor="end" font-size="10.7" font-weight="bold" fill="#000">75%</text>
<line x1="52.3" y1="568" x2="52.3" y2="571.3" stroke="#222" stroke-width="1.105"/>
<line x1="76.32" y1="568" x2="76.32" y2="571.3" stroke="#222" stroke-width="1.105"/>
<line x1="100.34" y1="568" x2="100.34" y2="571.3" stroke="#222" stroke-width="1.105"/>
<line x1="124.35" y1="568" x2="124.35" y2="571.3" stroke="#222" stroke-width="1.105"/>
<line x1="148.37" y1="568" x2="148.37" y2="571.3" stroke="#222" stroke-width="1.105"/>
<line x1="172.39" y1="568" x2="172.39" y2="571.3" stroke="#222" stroke-width="1.105"/>
<line x1="196.41" y1="568" x2="196.41" y2="571.3" stroke="#222" stroke-width="1.105"/>
<line x1="220.43" y1="568" x2="220.43" y2="571.3" stroke="#222" stroke-width="1.105"/>
<line x1="244.45" y1="568" x2="244.45" y2="571.3" stroke="#222" stroke-width="1.105"/>
<line x1="268.46" y1="568" x2="268.46" y2="571.3" stroke="#222" stroke-width="1.105"/>
<line x1="292.48" y1="568" x2="292.48" y2="571.3" stroke="#222" stroke-width="1.105"/>
<line x1="316.5" y1="568" x2="316.5" y2="571.3" stroke="#222" stroke-width="1.105"/>
<text x="64.31" y="585" text-anchor="middle" font-size="11.2" font-weight="bold">20</text>
<text x="88.33" y="585" text-anchor="middle" font-size="11.2" font-weight="bold">21</text>
<text x="112.35" y="585" text-anchor="middle" font-size="11.2" font-weight="bold">22</text>
<text x="136.36" y="585" text-anchor="middle" font-size="11.2" font-weight="bold">23</text>
<text x="160.38" y="585" text-anchor="middle" font-size="11.2" font-weight="bold">24</text>
<text x="184.4" y="585" text-anchor="middle" font-size="11.2" font-weight="bold">25</text>
<text x="208.42" y="585" text-anchor="middle" font-size="11.2" font-weight="bold">26</text>
<text x="232.44" y="585" text-anchor="middle" font-size="11.2" font-weight="bold">27</text>
<text x="256.45" y="585" text-anchor="middle" font-size="11.2" font-weight="bold">28</text>
<text x="280.47" y="585" text-anchor="middle" font-size="11.2" font-weight="bold">29</text>
<text x="304.49" y="585" text-anchor="middle" font-size="11.2" font-weight="bold">30</text>
<path d="M64.31,435.97 C68.31,434.01 81.28,412.86 88.33,424.22 C96.33,437.13 104.34,497.63 112.35,513.43 C117.92,524.43 128.36,517.04 136.36,519.02 C144.37,521.01 152.38,522.64 160.38,525.32 C168.39,528 176.39,538.85 184.4,535.12 C192.41,531.38 200.41,508.53 208.42,502.93 C216.42,497.33 224.43,504.91 232.44,501.53 C240.44,498.15 248.45,486.72 256.45,482.64 C264.46,478.56 272.47,477.92 280.47,477.04 C288.48,476.17 300.49,477.33 304.49,477.39" fill="none" stroke="#000" stroke-width="1.5"/>
<path d="M59.31,430.97 L69.31,440.97 M59.31,440.97 L69.31,430.97 M64.31,430.97 L64.31,440.97" stroke="#000" stroke-width="1.25" fill="none"/>
<path d="M83.33,419.22 L93.33,429.22 M83.33,429.22 L93.33,419.22 M88.33,419.22 L88.33,429.22" stroke="#000" stroke-width="1.25" fill="none"/>
<path d="M107.35,508.43 L117.35,518.43 M107.35,518.43 L117.35,508.43 M112.35,508.43 L112.35,518.43" stroke="#000" stroke-width="1.25" fill="none"/>
<path d="M131.36,514.02 L141.36,524.02 M131.36,524.02 L141.36,514.02 M136.36,514.02 L136.36,524.02" stroke="#000" stroke-width="1.25" fill="none"/>
<path d="M155.38,520.32 L165.38,530.32 M155.38,530.32 L165.38,520.32 M160.38,520.32 L160.38,530.32" stroke="#000" stroke-width="1.25" fill="none"/>
<path d="M179.4,530.12 L189.4,540.12 M179.4,540.12 L189.4,530.12 M184.4,530.12 L184.4,540.12" stroke="#000" stroke-width="1.25" fill="none"/>
<path d="M203.42,497.93 L213.42,507.93 M203.42,507.93 L213.42,497.93 M208.42,497.93 L208.42,507.93" stroke="#000" stroke-width="1.25" fill="none"/>
<path d="M227.44,496.53 L237.44,506.53 M227.44,506.53 L237.44,496.53 M232.44,496.53 L232.44,506.53" stroke="#000" stroke-width="1.25" fill="none"/>
<path d="M251.45,477.64 L261.45,487.64 M251.45,487.64 L261.45,477.64 M256.45,477.64 L256.45,487.64" stroke="#000" stroke-width="1.25" fill="none"/>
<path d="M275.47,472.04 L285.47,482.04 M275.47,482.04 L285.47,472.04 M280.47,472.04 L280.47,482.04" stroke="#000" stroke-width="1.25" fill="none"/>
<path d="M299.49,472.39 L309.49,482.39 M299.49,482.39 L309.49,472.39 M304.49,472.39 L304.49,482.39" stroke="#000" stroke-width="1.25" fill="none"/>
<path d="M64.31,378.39 C68.31,378.74 80.32,371.51 88.33,380.49 C96.33,389.47 104.34,420.02 112.35,432.26 C120.35,444.51 128.36,453.21 136.36,453.95 C144.37,454.7 152.38,424.85 160.38,436.74 C168.39,448.64 176.39,513.24 184.4,525.32 C192.39,537.37 200.41,514.91 208.42,509.23 C216.42,503.55 224.43,496.49 232.44,491.25 C240.44,486 248.45,480.58 256.45,477.74 C264.46,474.91 272.47,477.86 280.47,474.24 C288.48,470.63 300.49,459.09 304.49,456.05" fill="none" stroke="#000" stroke-width="1.75" stroke-dasharray="1.75 2.3"/>
<path d="M64.31,372.84 L69.86,378.39 L64.31,383.94 L58.76,378.39Z" fill="#000"/>
<path d="M88.33,374.94 L93.88,380.49 L88.33,386.04 L82.78,380.49Z" fill="#000"/>
<path d="M112.35,426.71 L117.9,432.26 L112.35,437.81 L106.8,432.26Z" fill="#000"/>
<path d="M136.36,448.4 L141.91,453.95 L136.36,459.5 L130.81,453.95Z" fill="#000"/>
<path d="M160.38,431.19 L165.93,436.74 L160.38,442.29 L154.83,436.74Z" fill="#000"/>
<path d="M184.4,519.77 L189.95,525.32 L184.4,530.87 L178.85,525.32Z" fill="#000"/>
<path d="M208.42,503.68 L213.97,509.23 L208.42,514.78 L202.87,509.23Z" fill="#000"/>
<path d="M232.44,485.7 L237.99,491.25 L232.44,496.8 L226.89,491.25Z" fill="#000"/>
<path d="M256.45,472.19 L262,477.74 L256.45,483.29 L250.9,477.74Z" fill="#000"/>
<path d="M280.47,468.69 L286.02,474.24 L280.47,479.79 L274.92,474.24Z" fill="#000"/>
<path d="M304.49,450.5 L310.04,456.05 L304.49,461.6 L298.94,456.05Z" fill="#000"/>
<path d="M64.31,497.33 C68.31,489.52 80.32,460.72 88.33,450.46 C96.33,440.19 104.34,434.07 112.35,435.76 C120.35,437.45 128.36,458.22 136.36,460.6 C144.37,462.98 152.78,439.35 160.38,450.04 C168.39,461.29 176.39,518.6 184.4,528.12 C192.41,537.63 200.41,510.74 208.42,507.13 C216.42,503.51 224.43,509.87 232.44,506.43 C240.44,502.99 248.45,490.64 256.45,486.49 C264.46,482.34 272.47,485.66 280.47,481.52 C288.48,477.38 300.49,464.96 304.49,461.65" fill="none" stroke="#000" stroke-width="1.9" stroke-dasharray="5 2.6"/>
<path d="M64.31,491.83 L69.96,502.83 L58.66,502.83Z" fill="#000"/>
<path d="M88.33,444.96 L93.98,455.96 L82.68,455.96Z" fill="#000"/>
<path d="M112.35,430.26 L118,441.26 L106.7,441.26Z" fill="#000"/>
<path d="M136.36,455.1 L142.01,466.1 L130.71,466.1Z" fill="#000"/>
<path d="M160.38,444.54 L166.03,455.54 L154.73,455.54Z" fill="#000"/>
<path d="M184.4,522.62 L190.05,533.62 L178.75,533.62Z" fill="#000"/>
<path d="M208.42,501.63 L214.07,512.63 L202.77,512.63Z" fill="#000"/>
<path d="M232.44,500.93 L238.09,511.93 L226.79,511.93Z" fill="#000"/>
<path d="M256.45,480.99 L262.1,491.99 L250.8,491.99Z" fill="#000"/>
<path d="M280.47,476.02 L286.12,487.02 L274.82,487.02Z" fill="#000"/>
<path d="M304.49,456.15 L310.14,467.15 L298.84,467.15Z" fill="#000"/>
<text x="182.5" y="607" text-anchor="middle" font-size="14" font-weight="bold">Age, days</text>
<text transform="translate(14.2,459.3) rotate(-90) scale(1,1)" text-anchor="middle" font-size="14" font-weight="bold">Lying, %</text>
<text x="132.1" y="370.5" text-anchor="middle" font-size="11.05" font-weight="bold">Pre-weaning</text>
<text x="132.1" y="382.8" text-anchor="middle" font-size="11.05" font-weight="bold">period</text>
<text x="245.5" y="371.6" text-anchor="middle" font-size="11.05" font-weight="bold">After weaning</text>
<text x="314" y="357" font-size="17" font-weight="bold" font-style="italic" fill="#000">c</text>
<text x="65.8" y="371.7" text-anchor="middle" font-size="11.3" font-weight="bold">a</text>
<text x="80.9" y="371.7" text-anchor="middle" font-size="11.3" font-weight="bold">a</text>
<text x="112.6" y="421.1" text-anchor="middle" font-size="11.3" font-weight="bold">a</text>
<text x="160.3" y="422.4" text-anchor="middle" font-size="11.3" font-weight="bold">a</text>
<text x="61.6" y="425.9" text-anchor="middle" font-size="11.3" font-weight="bold">b</text>
<text x="84.9" y="440.5" text-anchor="middle" font-size="11.3" font-weight="bold">b</text>
<text x="134.4" y="445" text-anchor="middle" font-size="11.3" font-weight="bold">a</text>
<text x="110" y="452" text-anchor="middle" font-size="11.3" font-weight="bold">a</text>
<text x="86.2" y="469.4" text-anchor="middle" font-size="11.3" font-weight="bold">b</text>
<text x="155" y="470.4" text-anchor="middle" font-size="11.3" font-weight="bold">a</text>
<text x="132.4" y="477.2" text-anchor="middle" font-size="11.3" font-weight="bold">a</text>
<text x="59" y="515.4" text-anchor="middle" font-size="11.3" font-weight="bold">c</text>
<text x="107.5" y="529.4" text-anchor="middle" font-size="11.3" font-weight="bold">b</text>
<text x="135.7" y="532.7" text-anchor="middle" font-size="11.3" font-weight="bold">b</text>
<text x="157" y="541" text-anchor="middle" font-size="11.3" font-weight="bold">b</text>
<text x="188.3" y="509.5" text-anchor="middle" font-size="11.3" font-weight="bold">ns</text>
<text x="205.5" y="492" text-anchor="middle" font-size="11.3" font-weight="bold">ns</text>
<text x="229.6" y="479.6" text-anchor="middle" font-size="11.3" font-weight="bold">ns</text>
<text x="253.5" y="467.9" text-anchor="middle" font-size="11.3" font-weight="bold">ns</text>
<text x="279.8" y="462.9" text-anchor="middle" font-size="11.3" font-weight="bold">ns</text>
<text x="305.3" y="447.7" text-anchor="middle" font-size="11.3" font-weight="bold">ns</text>
<line x1="64" y1="623.7" x2="104" y2="623.7" stroke="#000" stroke-width="1.6"/>
<path d="M80.9,620.6 L87.1,626.8 M80.9,626.8 L87.1,620.6 M84,620.6 L84,626.8" stroke="#000" stroke-width="1.1" fill="none"/>
<text x="108.5" y="628.02" font-size="12">AW</text>
<line x1="150" y1="623.7" x2="192" y2="623.7" stroke="#000" stroke-width="1.5" stroke-dasharray="1.45 1.45"/>
<path d="M171,619.6 L175.1,623.7 L171,627.8 L166.9,623.7Z" fill="#000"/>
<text x="195.5" y="628.02" font-size="12">NS</text>
<line x1="234" y1="623.7" x2="275.3" y2="623.7" stroke="#000" stroke-width="2" stroke-dasharray="4.6 2.6"/>
<path d="M254.65,619.75 L258.9,627.65 L250.4,627.65Z" fill="#000"/>
<text x="279" y="628.02" font-size="12">DS</text>
</g>
<g>
<line x1="403.8" y1="527.22" x2="675" y2="527.22" stroke="#b0b0b0" stroke-width="0.9"/>
<line x1="403.8" y1="484.34" x2="675" y2="484.34" stroke="#b0b0b0" stroke-width="0.9"/>
<line x1="403.8" y1="441.46" x2="675" y2="441.46" stroke="#b0b0b0" stroke-width="0.9"/>
<line x1="403.8" y1="398.58" x2="675" y2="398.58" stroke="#b0b0b0" stroke-width="0.9"/>
<line x1="403.8" y1="355.7" x2="675" y2="355.7" stroke="#b0b0b0" stroke-width="0.9"/>
<line x1="540.4" y1="357.5" x2="540.4" y2="570.1" stroke="#000" stroke-width="1.35" stroke-dasharray="1.5 1.63"/>
<line x1="403.8" y1="355.7" x2="403.8" y2="573.7" stroke="#404040" stroke-width="1.75"/>
<line x1="400.2" y1="570.1" x2="675.88" y2="570.1" stroke="#404040" stroke-width="1.75"/>
<line x1="400.2" y1="570.1" x2="403.8" y2="570.1" stroke="#404040" stroke-width="1.4875"/>
<text x="394.3" y="574.6" text-anchor="end" font-size="10.7" font-weight="bold" fill="#000">0%</text>
<line x1="400.2" y1="527.22" x2="403.8" y2="527.22" stroke="#404040" stroke-width="1.4875"/>
<text x="394.3" y="531.72" text-anchor="end" font-size="10.7" font-weight="bold" fill="#000">5%</text>
<line x1="400.2" y1="484.34" x2="403.8" y2="484.34" stroke="#404040" stroke-width="1.4875"/>
<text x="394.3" y="488.84" text-anchor="end" font-size="10.7" font-weight="bold" fill="#000">10%</text>
<line x1="400.2" y1="441.46" x2="403.8" y2="441.46" stroke="#404040" stroke-width="1.4875"/>
<text x="394.3" y="445.96" text-anchor="end" font-size="10.7" font-weight="bold" fill="#000">15%</text>
<line x1="400.2" y1="398.58" x2="403.8" y2="398.58" stroke="#404040" stroke-width="1.4875"/>
<text x="394.3" y="403.08" text-anchor="end" font-size="10.7" font-weight="bold" fill="#000">20%</text>
<line x1="400.2" y1="355.7" x2="403.8" y2="355.7" stroke="#404040" stroke-width="1.4875"/>
<text x="394.3" y="360.2" text-anchor="end" font-size="10.7" font-weight="bold" fill="#000">25%</text>
<line x1="403.8" y1="570.1" x2="403.8" y2="573.7" stroke="#404040" stroke-width="1.4875"/>
<line x1="428.45" y1="570.1" x2="428.45" y2="573.7" stroke="#404040" stroke-width="1.4875"/>
<line x1="453.11" y1="570.1" x2="453.11" y2="573.7" stroke="#404040" stroke-width="1.4875"/>
<line x1="477.76" y1="570.1" x2="477.76" y2="573.7" stroke="#404040" stroke-width="1.4875"/>
<line x1="502.42" y1="570.1" x2="502.42" y2="573.7" stroke="#404040" stroke-width="1.4875"/>
<line x1="527.07" y1="570.1" x2="527.07" y2="573.7" stroke="#404040" stroke-width="1.4875"/>
<line x1="551.73" y1="570.1" x2="551.73" y2="573.7" stroke="#404040" stroke-width="1.4875"/>
<line x1="576.38" y1="570.1" x2="576.38" y2="573.7" stroke="#404040" stroke-width="1.4875"/>
<line x1="601.04" y1="570.1" x2="601.04" y2="573.7" stroke="#404040" stroke-width="1.4875"/>
<line x1="625.69" y1="570.1" x2="625.69" y2="573.7" stroke="#404040" stroke-width="1.4875"/>
<line x1="650.35" y1="570.1" x2="650.35" y2="573.7" stroke="#404040" stroke-width="1.4875"/>
<line x1="675" y1="570.1" x2="675" y2="573.7" stroke="#404040" stroke-width="1.4875"/>
<text x="416.13" y="587" text-anchor="middle" font-size="11.2" font-weight="bold">20</text>
<text x="440.78" y="587" text-anchor="middle" font-size="11.2" font-weight="bold">21</text>
<text x="465.44" y="587" text-anchor="middle" font-size="11.2" font-weight="bold">22</text>
<text x="490.09" y="587" text-anchor="middle" font-size="11.2" font-weight="bold">23</text>
<text x="514.75" y="587" text-anchor="middle" font-size="11.2" font-weight="bold">24</text>
<text x="539.4" y="587" text-anchor="middle" font-size="11.2" font-weight="bold">25</text>
<text x="564.05" y="587" text-anchor="middle" font-size="11.2" font-weight="bold">26</text>
<text x="588.71" y="587" text-anchor="middle" font-size="11.2" font-weight="bold">27</text>
<text x="613.36" y="587" text-anchor="middle" font-size="11.2" font-weight="bold">28</text>
<text x="638.02" y="587" text-anchor="middle" font-size="11.2" font-weight="bold">29</text>
<text x="662.67" y="587" text-anchor="middle" font-size="11.2" font-weight="bold">30</text>
<path d="M416.13,469.76 C420.24,472.26 432.56,493.27 440.78,484.77 C449,476.26 457.22,426.05 465.44,418.73 C473.65,411.42 481.87,443.65 490.09,440.86 C498.31,438.07 506.53,381.96 514.75,402.01 C522.96,422.06 531.18,536.07 539.4,561.18 C543.45,573.57 555.84,555.78 564.05,552.69 C572.27,549.6 580.49,544.69 588.71,542.66 C596.93,540.63 605.15,542.94 613.36,540.51 C621.58,538.08 629.8,531.82 638.02,528.08 C646.24,524.33 658.56,519.72 662.67,518.04" fill="none" stroke="#000" stroke-width="1.4"/>
<path d="M411.23,464.86 L421.03,474.66 M411.23,474.66 L421.03,464.86 M416.13,464.86 L416.13,474.66" stroke="#000" stroke-width="1.25" fill="none"/>
<path d="M435.88,479.87 L445.68,489.67 M435.88,489.67 L445.68,479.87 M440.78,479.87 L440.78,489.67" stroke="#000" stroke-width="1.25" fill="none"/>
<path d="M460.54,413.83 L470.34,423.63 M460.54,423.63 L470.34,413.83 M465.44,413.83 L465.44,423.63" stroke="#000" stroke-width="1.25" fill="none"/>
<path d="M485.19,435.96 L494.99,445.76 M485.19,445.76 L494.99,435.96 M490.09,435.96 L490.09,445.76" stroke="#000" stroke-width="1.25" fill="none"/>
<path d="M509.85,397.11 L519.65,406.91 M509.85,406.91 L519.65,397.11 M514.75,397.11 L514.75,406.91" stroke="#000" stroke-width="1.25" fill="none"/>
<path d="M534.5,556.28 L544.3,566.08 M534.5,566.08 L544.3,556.28 M539.4,556.28 L539.4,566.08" stroke="#000" stroke-width="1.25" fill="none"/>
<path d="M559.15,547.79 L568.95,557.59 M559.15,557.59 L568.95,547.79 M564.05,547.79 L564.05,557.59" stroke="#000" stroke-width="1.25" fill="none"/>
<path d="M583.81,537.76 L593.61,547.56 M583.81,547.56 L593.61,537.76 M588.71,537.76 L588.71,547.56" stroke="#000" stroke-width="1.25" fill="none"/>
<path d="M608.46,535.61 L618.26,545.41 M608.46,545.41 L618.26,535.61 M613.36,535.61 L613.36,545.41" stroke="#000" stroke-width="1.25" fill="none"/>
<path d="M633.12,523.18 L642.92,532.98 M633.12,532.98 L642.92,523.18 M638.02,523.18 L638.02,532.98" stroke="#000" stroke-width="1.25" fill="none"/>
<path d="M657.77,513.14 L667.57,522.94 M657.77,522.94 L667.57,513.14 M662.67,513.14 L662.67,522.94" stroke="#000" stroke-width="1.25" fill="none"/>
<path d="M416.13,551.23 C420.24,551.38 432.56,553.23 440.78,552.09 C449,550.95 457.22,545.87 465.44,544.37 C473.65,542.87 481.87,542.51 490.09,543.09 C498.31,543.66 506.53,548.02 514.75,547.8 C522.96,547.59 531.18,542.94 539.4,541.8 C547.62,540.66 555.84,542.66 564.05,540.94 C572.27,539.23 580.49,533.08 588.71,531.51 C596.93,529.94 605.15,534.51 613.36,531.51 C621.58,528.51 629.8,516.79 638.02,513.5 C646.24,510.21 658.56,512.07 662.67,511.78" fill="none" stroke="#000" stroke-width="1.75" stroke-dasharray="1.7 1.85"/>
<path d="M416.13,545.93 L421.43,551.23 L416.13,556.53 L410.83,551.23Z" fill="#000"/>
<path d="M440.78,546.79 L446.08,552.09 L440.78,557.39 L435.48,552.09Z" fill="#000"/>
<path d="M465.44,539.07 L470.74,544.37 L465.44,549.67 L460.14,544.37Z" fill="#000"/>
<path d="M490.09,537.79 L495.39,543.09 L490.09,548.39 L484.79,543.09Z" fill="#000"/>
<path d="M514.75,542.5 L520.05,547.8 L514.75,553.1 L509.45,547.8Z" fill="#000"/>
<path d="M539.4,536.5 L544.7,541.8 L539.4,547.1 L534.1,541.8Z" fill="#000"/>
<path d="M564.05,535.64 L569.35,540.94 L564.05,546.24 L558.75,540.94Z" fill="#000"/>
<path d="M588.71,526.21 L594.01,531.51 L588.71,536.81 L583.41,531.51Z" fill="#000"/>
<path d="M613.36,526.21 L618.66,531.51 L613.36,536.81 L608.06,531.51Z" fill="#000"/>
<path d="M638.02,508.2 L643.32,513.5 L638.02,518.8 L632.72,513.5Z" fill="#000"/>
<path d="M662.67,506.48 L667.97,511.78 L662.67,517.08 L657.37,511.78Z" fill="#000"/>
<path d="M416.13,529.11 C420.24,531.34 432.56,540.66 440.78,542.49 C449,544.31 457.22,539.34 465.44,540.08 C473.65,540.83 481.87,546.37 490.09,546.94 C498.31,547.52 506.53,543.8 514.75,543.51 C522.96,543.23 531.18,545.73 539.4,545.23 C547.62,544.73 555.84,541.66 564.05,540.51 C572.27,539.37 580.49,539.3 588.71,538.37 C596.93,537.44 605.15,535.8 613.36,534.94 C621.58,534.08 629.8,535.84 638.02,533.22 C646.24,530.61 658.56,521.57 662.67,519.24" fill="none" stroke="#000" stroke-width="1.95" stroke-dasharray="4.8 2.3"/>
<path d="M416.13,524.76 L420.73,533.46 L411.53,533.46Z" fill="#000"/>
<path d="M440.78,538.14 L445.38,546.84 L436.18,546.84Z" fill="#000"/>
<path d="M465.44,535.73 L470.04,544.43 L460.84,544.43Z" fill="#000"/>
<path d="M490.09,542.59 L494.69,551.29 L485.49,551.29Z" fill="#000"/>
<path d="M514.75,539.16 L519.35,547.86 L510.15,547.86Z" fill="#000"/>
<path d="M539.4,540.88 L544,549.58 L534.8,549.58Z" fill="#000"/>
<path d="M564.05,536.16 L568.65,544.86 L559.45,544.86Z" fill="#000"/>
<path d="M588.71,534.02 L593.31,542.72 L584.11,542.72Z" fill="#000"/>
<path d="M613.36,530.59 L617.96,539.29 L608.76,539.29Z" fill="#000"/>
<path d="M638.02,528.87 L642.62,537.57 L633.42,537.57Z" fill="#000"/>
<path d="M662.67,514.89 L667.27,523.59 L658.07,523.59Z" fill="#000"/>
<text x="523.5" y="611" text-anchor="middle" font-size="14" font-weight="bold">Age, days</text>
<text transform="translate(370.2,432.6) rotate(-90) scale(1,1.08)" text-anchor="middle" font-size="14" font-weight="bold">Passive action, %</text>
<text x="468.9" y="370.3" text-anchor="middle" font-size="11.05" font-weight="bold">Pre-weaning period</text>
<text x="600.3" y="370.6" text-anchor="middle" font-size="11.05" font-weight="bold">After weaning</text>
<text x="672.4" y="357.5" font-size="17.4" font-weight="bold" font-style="italic" fill="#000">d</text>
<text x="415.9" y="455.1" text-anchor="middle" font-size="11.3" font-weight="bold">a</text>
<text x="436" y="470.9" text-anchor="middle" font-size="11.3" font-weight="bold">a</text>
<text x="468.1" y="413.1" text-anchor="middle" font-size="11.3" font-weight="bold">a</text>
<text x="486.2" y="430.7" text-anchor="middle" font-size="11.3" font-weight="bold">a</text>
<text x="514.5" y="386.7" text-anchor="middle" font-size="11.3" font-weight="bold">a</text>
<text x="414.6" y="521.9" text-anchor="middle" font-size="11.3" font-weight="bold">b</text>
<text x="436" y="529.4" text-anchor="middle" font-size="11.3" font-weight="bold">b</text>
<text x="462.3" y="530.2" text-anchor="middle" font-size="11.3" font-weight="bold">b</text>
<text x="486.7" y="528.9" text-anchor="middle" font-size="11.3" font-weight="bold">b</text>
<text x="513.4" y="533.2" text-anchor="middle" font-size="11.3" font-weight="bold">b</text>
<text x="411.3" y="565.4" text-anchor="middle" font-size="11.3" font-weight="bold">b</text>
<text x="434.7" y="564.6" text-anchor="middle" font-size="11.3" font-weight="bold">b</text>
<text x="464.1" y="560.3" text-anchor="middle" font-size="11.3" font-weight="bold">b</text>
<text x="492.5" y="564.6" text-anchor="middle" font-size="11.3" font-weight="bold">b</text>
<text x="513.4" y="563.6" text-anchor="middle" font-size="11.3" font-weight="bold">b</text>
<text x="544.4" y="531.7" text-anchor="middle" font-size="11.3" font-weight="bold">ns</text>
<text x="560.7" y="529.2" text-anchor="middle" font-size="11.3" font-weight="bold">ns</text>
<text x="584.1" y="519.7" text-anchor="middle" font-size="11.3" font-weight="bold">ns</text>
<text x="611.7" y="520.4" text-anchor="middle" font-size="11.3" font-weight="bold">ns</text>
<text x="637.9" y="498.5" text-anchor="middle" font-size="11.3" font-weight="bold">ns</text>
<text x="663" y="502.8" text-anchor="middle" font-size="11.3" font-weight="bold">ns</text>
<line x1="423.5" y1="623.7" x2="463.5" y2="623.7" stroke="#000" stroke-width="1.6"/>
<path d="M440.4,620.6 L446.6,626.8 M440.4,626.8 L446.6,620.6 M443.5,620.6 L443.5,626.8" stroke="#000" stroke-width="1.1" fill="none"/>
<text x="468" y="628.02" font-size="12">AW</text>
<line x1="513.2" y1="623.7" x2="553.5" y2="623.7" stroke="#000" stroke-width="1.5" stroke-dasharray="1.45 1.45"/>
<path d="M533.35,619.6 L537.45,623.7 L533.35,627.8 L529.25,623.7Z" fill="#000"/>
<text x="557.5" y="628.02" font-size="12">NS</text>
<line x1="599.6" y1="623.7" x2="641" y2="623.7" stroke="#000" stroke-width="2" stroke-dasharray="4.6 2.6"/>
<path d="M620.3,619.75 L624.55,627.65 L616.05,627.65Z" fill="#000"/>
<text x="644.5" y="628.02" font-size="12">DS</text>
</g>
<g>
<line x1="46.3" y1="855.63" x2="316.5" y2="855.63" stroke="#b0b0b0" stroke-width="1.1"/>
<line x1="46.3" y1="825.56" x2="316.5" y2="825.56" stroke="#b0b0b0" stroke-width="1.1"/>
<line x1="46.3" y1="795.49" x2="316.5" y2="795.49" stroke="#b0b0b0" stroke-width="1.1"/>
<line x1="46.3" y1="765.41" x2="316.5" y2="765.41" stroke="#b0b0b0" stroke-width="1.1"/>
<line x1="46.3" y1="735.34" x2="316.5" y2="735.34" stroke="#b0b0b0" stroke-width="1.1"/>
<line x1="46.3" y1="705.27" x2="316.5" y2="705.27" stroke="#b0b0b0" stroke-width="1.1"/>
<line x1="46.3" y1="675.2" x2="316.5" y2="675.2" stroke="#b0b0b0" stroke-width="1.1"/>
<line x1="180.2" y1="675.2" x2="180.2" y2="885.7" stroke="#000" stroke-width="1.7" stroke-dasharray="1.5 1.63"/>
<line x1="46.3" y1="675.2" x2="46.3" y2="888.9" stroke="#151515" stroke-width="1.2"/>
<line x1="43.1" y1="885.7" x2="317.1" y2="885.7" stroke="#151515" stroke-width="1.2"/>
<line x1="43.1" y1="885.7" x2="46.3" y2="885.7" stroke="#151515" stroke-width="1.02"/>
<text x="36.8" y="889.5" text-anchor="end" font-size="11" font-weight="normal" fill="#505050" stroke="#505050" stroke-width="0.35">0%</text>
<line x1="43.1" y1="855.63" x2="46.3" y2="855.63" stroke="#151515" stroke-width="1.02"/>
<text x="36.8" y="859.43" text-anchor="end" font-size="11" font-weight="normal" fill="#505050" stroke="#505050" stroke-width="0.35">1%</text>
<line x1="43.1" y1="825.56" x2="46.3" y2="825.56" stroke="#151515" stroke-width="1.02"/>
<text x="36.8" y="829.36" text-anchor="end" font-size="11" font-weight="normal" fill="#505050" stroke="#505050" stroke-width="0.35">1%</text>
<line x1="43.1" y1="795.49" x2="46.3" y2="795.49" stroke="#151515" stroke-width="1.02"/>
<text x="36.8" y="799.29" text-anchor="end" font-size="11" font-weight="normal" fill="#505050" stroke="#505050" stroke-width="0.35">2%</text>
<line x1="43.1" y1="765.41" x2="46.3" y2="765.41" stroke="#151515" stroke-width="1.02"/>
<text x="36.8" y="769.21" text-anchor="end" font-size="11" font-weight="normal" fill="#505050" stroke="#505050" stroke-width="0.35">2%</text>
<line x1="43.1" y1="735.34" x2="46.3" y2="735.34" stroke="#151515" stroke-width="1.02"/>
<text x="36.8" y="739.14" text-anchor="end" font-size="11" font-weight="normal" fill="#505050" stroke="#505050" stroke-width="0.35">3%</text>
<line x1="43.1" y1="705.27" x2="46.3" y2="705.27" stroke="#151515" stroke-width="1.02"/>
<text x="36.8" y="709.07" text-anchor="end" font-size="11" font-weight="normal" fill="#505050" stroke="#505050" stroke-width="0.35">3%</text>
<line x1="43.1" y1="675.2" x2="46.3" y2="675.2" stroke="#151515" stroke-width="1.02"/>
<text x="36.8" y="679" text-anchor="end" font-size="11" font-weight="normal" fill="#505050" stroke="#505050" stroke-width="0.35">4%</text>
<line x1="46.3" y1="885.7" x2="46.3" y2="888.9" stroke="#151515" stroke-width="1.02"/>
<line x1="70.86" y1="885.7" x2="70.86" y2="888.9" stroke="#151515" stroke-width="1.02"/>
<line x1="95.43" y1="885.7" x2="95.43" y2="888.9" stroke="#151515" stroke-width="1.02"/>
<line x1="119.99" y1="885.7" x2="119.99" y2="888.9" stroke="#151515" stroke-width="1.02"/>
<line x1="144.55" y1="885.7" x2="144.55" y2="888.9" stroke="#151515" stroke-width="1.02"/>
<line x1="169.12" y1="885.7" x2="169.12" y2="888.9" stroke="#151515" stroke-width="1.02"/>
<line x1="193.68" y1="885.7" x2="193.68" y2="888.9" stroke="#151515" stroke-width="1.02"/>
<line x1="218.25" y1="885.7" x2="218.25" y2="888.9" stroke="#151515" stroke-width="1.02"/>
<line x1="242.81" y1="885.7" x2="242.81" y2="888.9" stroke="#151515" stroke-width="1.02"/>
<line x1="267.37" y1="885.7" x2="267.37" y2="888.9" stroke="#151515" stroke-width="1.02"/>
<line x1="291.94" y1="885.7" x2="291.94" y2="888.9" stroke="#151515" stroke-width="1.02"/>
<line x1="316.5" y1="885.7" x2="316.5" y2="888.9" stroke="#151515" stroke-width="1.02"/>
<text x="58.58" y="902.3" text-anchor="middle" font-size="11.2" font-weight="bold">20</text>
<text x="83.15" y="902.3" text-anchor="middle" font-size="11.2" font-weight="bold">21</text>
<text x="107.71" y="902.3" text-anchor="middle" font-size="11.2" font-weight="bold">22</text>
<text x="132.27" y="902.3" text-anchor="middle" font-size="11.2" font-weight="bold">23</text>
<text x="156.84" y="902.3" text-anchor="middle" font-size="11.2" font-weight="bold">24</text>
<text x="181.4" y="902.3" text-anchor="middle" font-size="11.2" font-weight="bold">25</text>
<text x="205.96" y="902.3" text-anchor="middle" font-size="11.2" font-weight="bold">26</text>
<text x="230.53" y="902.3" text-anchor="middle" font-size="11.2" font-weight="bold">27</text>
<text x="255.09" y="902.3" text-anchor="middle" font-size="11.2" font-weight="bold">28</text>
<text x="279.65" y="902.3" text-anchor="middle" font-size="11.2" font-weight="bold">29</text>
<text x="304.22" y="902.3" text-anchor="middle" font-size="11.2" font-weight="bold">30</text>
<path d="M58.58,702.26 C62.68,724.65 74.96,816.11 83.15,836.56 C88.19,849.17 99.52,826.29 107.71,824.96 C115.9,823.62 124.08,823.75 132.27,828.56 C140.46,833.38 148.65,844.3 156.84,853.82 C165.02,863.35 173.21,881.52 181.4,885.7 C189.59,889.88 197.78,879.96 205.96,878.9 C214.15,877.85 222.34,880.98 230.53,879.38 C238.72,877.79 246.9,868.29 255.09,869.34 C263.28,870.39 271.47,886.63 279.65,885.7 C287.84,884.77 300.12,867.41 304.22,863.75" fill="none" stroke="#000" stroke-width="1.6"/>
<path d="M53.48,697.16 L63.68,707.36 M53.48,707.36 L63.68,697.16 M58.58,697.16 L58.58,707.36" stroke="#000" stroke-width="1.25" fill="none"/>
<path d="M78.05,831.46 L88.25,841.66 M78.05,841.66 L88.25,831.46 M83.15,831.46 L83.15,841.66" stroke="#000" stroke-width="1.25" fill="none"/>
<path d="M102.61,819.86 L112.81,830.06 M102.61,830.06 L112.81,819.86 M107.71,819.86 L107.71,830.06" stroke="#000" stroke-width="1.25" fill="none"/>
<path d="M127.17,823.46 L137.37,833.66 M127.17,833.66 L137.37,823.46 M132.27,823.46 L132.27,833.66" stroke="#000" stroke-width="1.25" fill="none"/>
<path d="M151.74,848.72 L161.94,858.92 M151.74,858.92 L161.94,848.72 M156.84,848.72 L156.84,858.92" stroke="#000" stroke-width="1.25" fill="none"/>
<path d="M176.3,880.6 L186.5,890.8 M176.3,890.8 L186.5,880.6 M181.4,880.6 L181.4,890.8" stroke="#000" stroke-width="1.25" fill="none"/>
<path d="M200.86,873.8 L211.06,884 M200.86,884 L211.06,873.8 M205.96,873.8 L205.96,884" stroke="#000" stroke-width="1.25" fill="none"/>
<path d="M225.43,874.28 L235.63,884.49 M225.43,884.49 L235.63,874.28 M230.53,874.28 L230.53,884.49" stroke="#000" stroke-width="1.25" fill="none"/>
<path d="M249.99,864.24 L260.19,874.44 M249.99,874.44 L260.19,864.24 M255.09,864.24 L255.09,874.44" stroke="#000" stroke-width="1.25" fill="none"/>
<path d="M274.55,880.6 L284.75,890.8 M274.55,890.8 L284.75,880.6 M279.65,880.6 L279.65,890.8" stroke="#000" stroke-width="1.25" fill="none"/>
<path d="M299.12,858.65 L309.32,868.85 M299.12,868.85 L309.32,858.65 M304.22,858.65 L304.22,868.85" stroke="#000" stroke-width="1.25" fill="none"/>
<path d="M58.58,846.61 L83.15,865.55 L107.71,874.27 L132.27,876.86 L156.84,865.85 L181.4,885.7 L205.96,859.24 L230.53,866.75 L255.09,841.19 L279.65,844.2 L304.22,815.93" fill="none" stroke="#000" stroke-width="1.7" stroke-dasharray="4 2"/>
<path d="M58.58,841.21 L63.98,846.61 L58.58,852.01 L53.18,846.61Z" fill="#000"/>
<path d="M83.15,860.15 L88.55,865.55 L83.15,870.95 L77.75,865.55Z" fill="#000"/>
<path d="M107.71,868.87 L113.11,874.27 L107.71,879.67 L102.31,874.27Z" fill="#000"/>
<path d="M132.27,871.46 L137.67,876.86 L132.27,882.26 L126.87,876.86Z" fill="#000"/>
<path d="M156.84,860.45 L162.24,865.85 L156.84,871.25 L151.44,865.85Z" fill="#000"/>
<path d="M181.4,880.3 L186.8,885.7 L181.4,891.1 L176,885.7Z" fill="#000"/>
<path d="M205.96,853.84 L211.36,859.24 L205.96,864.64 L200.56,859.24Z" fill="#000"/>
<path d="M230.53,861.36 L235.93,866.75 L230.53,872.15 L225.13,866.75Z" fill="#000"/>
<path d="M255.09,835.79 L260.49,841.19 L255.09,846.59 L249.69,841.19Z" fill="#000"/>
<path d="M279.65,838.8 L285.05,844.2 L279.65,849.6 L274.25,844.2Z" fill="#000"/>
<path d="M304.22,810.53 L309.62,815.93 L304.22,821.33 L298.82,815.93Z" fill="#000"/>
<path d="M58.58,854.43 L83.15,879.38 L107.71,873.67 L132.27,885.7 L156.84,879.87 L181.4,885.7 L205.96,885.7 L230.53,873.67 L255.09,852.2 L279.65,860.02 L304.22,858.03" fill="none" stroke="#000" stroke-width="2.1" stroke-dasharray="5.4 2.8"/>
<path d="M58.58,849.48 L63.88,859.38 L53.28,859.38Z" fill="#000"/>
<path d="M83.15,874.43 L88.45,884.34 L77.85,884.34Z" fill="#000"/>
<path d="M107.71,868.72 L113.01,878.62 L102.41,878.62Z" fill="#000"/>
<path d="M132.27,880.75 L137.57,890.65 L126.97,890.65Z" fill="#000"/>
<path d="M156.84,874.92 L162.14,884.82 L151.54,884.82Z" fill="#000"/>
<path d="M181.4,880.75 L186.7,890.65 L176.1,890.65Z" fill="#000"/>
<path d="M205.96,880.75 L211.26,890.65 L200.66,890.65Z" fill="#000"/>
<path d="M230.53,868.72 L235.83,878.62 L225.23,878.62Z" fill="#000"/>
<path d="M255.09,847.25 L260.39,857.15 L249.79,857.15Z" fill="#000"/>
<path d="M279.65,855.07 L284.95,864.97 L274.35,864.97Z" fill="#000"/>
<path d="M304.22,853.08 L309.52,862.98 L298.92,862.98Z" fill="#000"/>
<text x="181.7" y="923" text-anchor="middle" font-size="14" font-weight="bold">Age, days</text>
<text transform="translate(10.5,759.5) rotate(-90) scale(1,1)" text-anchor="middle" font-size="14" font-weight="bold">Play, %</text>
<text x="121" y="691" text-anchor="middle" font-size="11.05" font-weight="bold">Pre-weaning period</text>
<text x="251.1" y="690.5" text-anchor="middle" font-size="11.05" font-weight="bold">After weaning</text>
<text x="314" y="672.8" font-size="16.8" font-weight="bold" font-style="italic" fill="#000">e</text>
<text x="55.3" y="716.3" text-anchor="middle" font-size="11.3" font-weight="bold">a</text>
<text x="61.1" y="838.6" text-anchor="middle" font-size="11.3" font-weight="bold">b</text>
<text x="84.7" y="827.6" text-anchor="middle" font-size="11.3" font-weight="bold">a</text>
<text x="112.3" y="813.8" text-anchor="middle" font-size="11.3" font-weight="bold">a</text>
<text x="129.9" y="820.5" text-anchor="middle" font-size="11.3" font-weight="bold">a</text>
<text x="158.8" y="847.4" text-anchor="middle" font-size="11.3" font-weight="bold">ns</text>
<text x="81.7" y="858" text-anchor="middle" font-size="11.3" font-weight="bold">b</text>
<text x="105" y="865.5" text-anchor="middle" font-size="11.3" font-weight="bold">b</text>
<text x="130.7" y="870.5" text-anchor="middle" font-size="11.3" font-weight="bold">b</text>
<text x="58.3" y="869.3" text-anchor="middle" font-size="11.3" font-weight="bold">b</text>
<text x="72.4" y="882.6" text-anchor="middle" font-size="11.3" font-weight="bold">b</text>
<text x="106.8" y="885.6" text-anchor="middle" font-size="11.3" font-weight="bold">b</text>
<text x="303.9" y="803" text-anchor="middle" font-size="11.3" font-weight="bold">a</text>
<text x="254.4" y="833.1" text-anchor="middle" font-size="11.3" font-weight="bold">ns</text>
<text x="278.8" y="833.9" text-anchor="middle" font-size="11.3" font-weight="bold">a</text>
<text x="207.2" y="850.7" text-anchor="middle" font-size="11.3" font-weight="bold">a</text>
<text x="233.1" y="853.2" text-anchor="middle" font-size="11.3" font-weight="bold">ns</text>
<text x="303.9" y="849.2" text-anchor="middle" font-size="11.3" font-weight="bold">b</text>
<text x="179" y="868.3" text-anchor="middle" font-size="11.3" font-weight="bold">ns</text>
<text x="202.7" y="876.3" text-anchor="middle" font-size="11.3" font-weight="bold">b</text>
<text x="275" y="875.3" text-anchor="middle" font-size="11.3" font-weight="bold">a</text>
<text x="282.6" y="883.6" text-anchor="middle" font-size="11.3" font-weight="bold">b</text>
<text x="305.7" y="878.8" text-anchor="middle" font-size="11.3" font-weight="bold">b</text>
<line x1="51" y1="954.3" x2="92" y2="954.3" stroke="#000" stroke-width="1.6"/>
<path d="M68.4,951.2 L74.6,957.4 M68.4,957.4 L74.6,951.2 M71.5,951.2 L71.5,957.4" stroke="#000" stroke-width="1.1" fill="none"/>
<text x="95.5" y="958.62" font-size="12">AW</text>
<line x1="143" y1="954.3" x2="185" y2="954.3" stroke="#000" stroke-width="1.6" stroke-dasharray="3.6 2"/>
<path d="M164,950.2 L168.1,954.3 L164,958.4 L159.9,954.3Z" fill="#000"/>
<text x="188.5" y="958.62" font-size="12">NS</text>
<line x1="233" y1="954.3" x2="275" y2="954.3" stroke="#000" stroke-width="2" stroke-dasharray="4.6 2.6"/>
<path d="M254,950.35 L258.25,958.25 L249.75,958.25Z" fill="#000"/>
<text x="278.5" y="958.62" font-size="12">DS</text>
</g>
<g>
<line x1="418.2" y1="858.1" x2="667" y2="858.1" stroke="#b8b8b8" stroke-width="1.15"/>
<line x1="418.2" y1="825.6" x2="667" y2="825.6" stroke="#b8b8b8" stroke-width="1.15"/>
<line x1="418.2" y1="793.1" x2="667" y2="793.1" stroke="#b8b8b8" stroke-width="1.15"/>
<line x1="418.2" y1="760.6" x2="667" y2="760.6" stroke="#b8b8b8" stroke-width="1.15"/>
<line x1="418.2" y1="728.1" x2="667" y2="728.1" stroke="#b8b8b8" stroke-width="1.15"/>
<line x1="418.2" y1="695.6" x2="667" y2="695.6" stroke="#b8b8b8" stroke-width="1.15"/>
<line x1="418.2" y1="663.1" x2="667" y2="663.1" stroke="#b8b8b8" stroke-width="1.15"/>
<line x1="543.9" y1="663.1" x2="543.9" y2="886.4" stroke="#000" stroke-width="1.7" stroke-dasharray="1.5 1.63"/>
<line x1="418.2" y1="663.1" x2="418.2" y2="894.2" stroke="#3c3c3c" stroke-width="1.55"/>
<line x1="414.6" y1="890.6" x2="667.77" y2="890.6" stroke="#3c3c3c" stroke-width="1.55"/>
<line x1="414.6" y1="890.6" x2="418.2" y2="890.6" stroke="#3c3c3c" stroke-width="1.3175"/>
<text x="408.7" y="894.4" text-anchor="end" font-size="10.7" font-weight="bold" fill="#000">0%</text>
<line x1="414.6" y1="858.1" x2="418.2" y2="858.1" stroke="#3c3c3c" stroke-width="1.3175"/>
<text x="408.7" y="861.9" text-anchor="end" font-size="10.7" font-weight="bold" fill="#000">5%</text>
<line x1="414.6" y1="825.6" x2="418.2" y2="825.6" stroke="#3c3c3c" stroke-width="1.3175"/>
<text x="408.7" y="829.4" text-anchor="end" font-size="10.7" font-weight="bold" fill="#000">10%</text>
<line x1="414.6" y1="793.1" x2="418.2" y2="793.1" stroke="#3c3c3c" stroke-width="1.3175"/>
<text x="408.7" y="796.9" text-anchor="end" font-size="10.7" font-weight="bold" fill="#000">15%</text>
<line x1="414.6" y1="760.6" x2="418.2" y2="760.6" stroke="#3c3c3c" stroke-width="1.3175"/>
<text x="408.7" y="764.4" text-anchor="end" font-size="10.7" font-weight="bold" fill="#000">20%</text>
<line x1="414.6" y1="728.1" x2="418.2" y2="728.1" stroke="#3c3c3c" stroke-width="1.3175"/>
<text x="408.7" y="731.9" text-anchor="end" font-size="10.7" font-weight="bold" fill="#000">25%</text>
<line x1="414.6" y1="695.6" x2="418.2" y2="695.6" stroke="#3c3c3c" stroke-width="1.3175"/>
<text x="408.7" y="699.4" text-anchor="end" font-size="10.7" font-weight="bold" fill="#000">30%</text>
<line x1="414.6" y1="663.1" x2="418.2" y2="663.1" stroke="#3c3c3c" stroke-width="1.3175"/>
<text x="408.7" y="666.9" text-anchor="end" font-size="10.7" font-weight="bold" fill="#000">35%</text>
<line x1="418.2" y1="890.6" x2="418.2" y2="894.2" stroke="#3c3c3c" stroke-width="1.3175"/>
<line x1="440.82" y1="890.6" x2="440.82" y2="894.2" stroke="#3c3c3c" stroke-width="1.3175"/>
<line x1="463.44" y1="890.6" x2="463.44" y2="894.2" stroke="#3c3c3c" stroke-width="1.3175"/>
<line x1="486.05" y1="890.6" x2="486.05" y2="894.2" stroke="#3c3c3c" stroke-width="1.3175"/>
<line x1="508.67" y1="890.6" x2="508.67" y2="894.2" stroke="#3c3c3c" stroke-width="1.3175"/>
<line x1="531.29" y1="890.6" x2="531.29" y2="894.2" stroke="#3c3c3c" stroke-width="1.3175"/>
<line x1="553.91" y1="890.6" x2="553.91" y2="894.2" stroke="#3c3c3c" stroke-width="1.3175"/>
<line x1="576.53" y1="890.6" x2="576.53" y2="894.2" stroke="#3c3c3c" stroke-width="1.3175"/>
<line x1="599.15" y1="890.6" x2="599.15" y2="894.2" stroke="#3c3c3c" stroke-width="1.3175"/>
<line x1="621.76" y1="890.6" x2="621.76" y2="894.2" stroke="#3c3c3c" stroke-width="1.3175"/>
<line x1="644.38" y1="890.6" x2="644.38" y2="894.2" stroke="#3c3c3c" stroke-width="1.3175"/>
<line x1="667" y1="890.6" x2="667" y2="894.2" stroke="#3c3c3c" stroke-width="1.3175"/>
<text x="429.51" y="907.3" text-anchor="middle" font-size="11.2" font-weight="bold">20</text>
<text x="452.13" y="907.3" text-anchor="middle" font-size="11.2" font-weight="bold">21</text>
<text x="474.75" y="907.3" text-anchor="middle" font-size="11.2" font-weight="bold">22</text>
<text x="497.36" y="907.3" text-anchor="middle" font-size="11.2" font-weight="bold">23</text>
<text x="519.98" y="907.3" text-anchor="middle" font-size="11.2" font-weight="bold">24</text>
<text x="542.6" y="907.3" text-anchor="middle" font-size="11.2" font-weight="bold">25</text>
<text x="565.22" y="907.3" text-anchor="middle" font-size="11.2" font-weight="bold">26</text>
<text x="587.84" y="907.3" text-anchor="middle" font-size="11.2" font-weight="bold">27</text>
<text x="610.45" y="907.3" text-anchor="middle" font-size="11.2" font-weight="bold">28</text>
<text x="633.07" y="907.3" text-anchor="middle" font-size="11.2" font-weight="bold">29</text>
<text x="655.69" y="907.3" text-anchor="middle" font-size="11.2" font-weight="bold">30</text>
<path d="M429.51,847.7 C433.28,846.34 444.59,841.35 452.13,839.51 C459.67,837.67 467.21,841.43 474.75,836.65 C482.28,831.87 489.82,814.53 497.36,810.85 C504.9,807.16 512.44,818.48 519.98,814.55 C527.52,810.62 535.06,796.73 542.6,787.25 C550.14,777.77 557.68,763.47 565.22,757.67 C572.76,751.88 580.3,755.35 587.84,752.48 C595.38,749.6 602.92,745.6 610.45,740.45 C617.99,735.3 625.53,729.4 633.07,721.6 C640.61,713.8 651.92,698.31 655.69,693.65" fill="none" stroke="#000" stroke-width="1.6"/>
<rect x="424.06" y="842.25" width="10.9" height="10.9" fill="#fff"/><path d="M424.36,842.55 L434.66,852.85 M424.36,852.85 L434.66,842.55 M429.51,842.55 L429.51,852.85" stroke="#000" stroke-width="1.25" fill="none"/>
<rect x="446.68" y="834.06" width="10.9" height="10.9" fill="#fff"/><path d="M446.98,834.36 L457.28,844.66 M446.98,844.66 L457.28,834.36 M452.13,834.36 L452.13,844.66" stroke="#000" stroke-width="1.25" fill="none"/>
<rect x="469.3" y="831.2" width="10.9" height="10.9" fill="#fff"/><path d="M469.6,831.5 L479.9,841.8 M469.6,841.8 L479.9,831.5 M474.75,831.5 L474.75,841.8" stroke="#000" stroke-width="1.25" fill="none"/>
<rect x="491.91" y="805.4" width="10.9" height="10.9" fill="#fff"/><path d="M492.21,805.7 L502.51,816 M492.21,816 L502.51,805.7 M497.36,805.7 L497.36,816" stroke="#000" stroke-width="1.25" fill="none"/>
<rect x="514.53" y="809.1" width="10.9" height="10.9" fill="#fff"/><path d="M514.83,809.4 L525.13,819.7 M514.83,819.7 L525.13,809.4 M519.98,809.4 L519.98,819.7" stroke="#000" stroke-width="1.25" fill="none"/>
<rect x="537.15" y="781.8" width="10.9" height="10.9" fill="#fff"/><path d="M537.45,782.1 L547.75,792.4 M537.45,792.4 L547.75,782.1 M542.6,782.1 L542.6,792.4" stroke="#000" stroke-width="1.25" fill="none"/>
<rect x="559.77" y="752.23" width="10.9" height="10.9" fill="#fff"/><path d="M560.07,752.52 L570.37,762.82 M560.07,762.82 L570.37,752.52 M565.22,752.52 L565.22,762.82" stroke="#000" stroke-width="1.25" fill="none"/>
<rect x="582.39" y="747.03" width="10.9" height="10.9" fill="#fff"/><path d="M582.69,747.33 L592.99,757.62 M582.69,757.62 L592.99,747.33 M587.84,747.33 L587.84,757.62" stroke="#000" stroke-width="1.25" fill="none"/>
<rect x="605" y="735" width="10.9" height="10.9" fill="#fff"/><path d="M605.3,735.3 L615.6,745.6 M605.3,745.6 L615.6,735.3 M610.45,735.3 L610.45,745.6" stroke="#000" stroke-width="1.25" fill="none"/>
<rect x="627.62" y="716.15" width="10.9" height="10.9" fill="#fff"/><path d="M627.92,716.45 L638.22,726.75 M627.92,726.75 L638.22,716.45 M633.07,716.45 L633.07,726.75" stroke="#000" stroke-width="1.25" fill="none"/>
<rect x="650.24" y="688.2" width="10.9" height="10.9" fill="#fff"/><path d="M650.54,688.5 L660.84,698.8 M650.54,698.8 L660.84,688.5 M655.69,688.5 L655.69,698.8" stroke="#000" stroke-width="1.25" fill="none"/>
<path d="M429.51,833.66 C433.28,829.28 444.59,815.78 452.13,807.4 C459.67,799.01 467.21,787.25 474.75,783.35 C482.28,779.45 489.82,785.19 497.36,784 C504.9,782.81 512.44,780.91 519.98,776.2 C527.52,771.49 535.06,762.77 542.6,755.73 C550.14,748.68 557.68,736.17 565.22,733.95 C572.76,731.73 580.3,744.89 587.84,742.4 C595.38,739.91 602.92,725.39 610.45,719 C617.99,712.61 625.53,710.01 633.07,704.05 C640.61,698.09 651.92,686.72 655.69,683.25" fill="none" stroke="#000" stroke-width="1.75" stroke-dasharray="1.7 1.9"/>
<path d="M429.51,827.96 L435.21,833.66 L429.51,839.36 L423.81,833.66Z" fill="#000"/>
<path d="M452.13,801.7 L457.83,807.4 L452.13,813.1 L446.43,807.4Z" fill="#000"/>
<path d="M474.75,777.65 L480.45,783.35 L474.75,789.05 L469.05,783.35Z" fill="#000"/>
<path d="M497.36,778.3 L503.06,784 L497.36,789.7 L491.66,784Z" fill="#000"/>
<path d="M519.98,770.5 L525.68,776.2 L519.98,781.9 L514.28,776.2Z" fill="#000"/>
<path d="M542.6,750.02 L548.3,755.73 L542.6,761.43 L536.9,755.73Z" fill="#000"/>
<path d="M565.22,728.25 L570.92,733.95 L565.22,739.65 L559.52,733.95Z" fill="#000"/>
<path d="M587.84,736.7 L593.54,742.4 L587.84,748.1 L582.14,742.4Z" fill="#000"/>
<path d="M610.45,713.3 L616.15,719 L610.45,724.7 L604.75,719Z" fill="#000"/>
<path d="M633.07,698.35 L638.77,704.05 L633.07,709.75 L627.37,704.05Z" fill="#000"/>
<path d="M655.69,677.55 L661.39,683.25 L655.69,688.95 L649.99,683.25Z" fill="#000"/>
<path d="M429.51,820.4 C433.28,818.45 444.59,810.76 452.13,808.7 C459.67,806.64 467.21,811.08 474.75,808.05 C482.28,805.02 489.82,792.34 497.36,790.5 C504.9,788.66 512.44,799.44 519.98,797 C527.52,794.56 535.06,780.42 542.6,775.88 C550.14,771.33 557.68,774.41 565.22,769.7 C572.76,764.99 580.3,752.26 587.84,747.6 C595.38,742.94 602.92,746.95 610.45,741.75 C617.99,736.55 625.53,723.12 633.07,716.4 C640.61,709.68 651.92,703.94 655.69,701.45" fill="none" stroke="#000" stroke-width="2.1" stroke-dasharray="5.4 2.8"/>
<path d="M429.51,815.25 L434.96,825.55 L424.06,825.55Z" fill="#000"/>
<path d="M452.13,803.55 L457.58,813.85 L446.68,813.85Z" fill="#000"/>
<path d="M474.75,802.9 L480.2,813.2 L469.3,813.2Z" fill="#000"/>
<path d="M497.36,785.35 L502.81,795.65 L491.91,795.65Z" fill="#000"/>
<path d="M519.98,791.85 L525.43,802.15 L514.53,802.15Z" fill="#000"/>
<path d="M542.6,770.73 L548.05,781.02 L537.15,781.02Z" fill="#000"/>
<path d="M565.22,764.55 L570.67,774.85 L559.77,774.85Z" fill="#000"/>
<path d="M587.84,742.45 L593.29,752.75 L582.39,752.75Z" fill="#000"/>
<path d="M610.45,736.6 L615.9,746.9 L605,746.9Z" fill="#000"/>
<path d="M633.07,711.25 L638.52,721.55 L627.62,721.55Z" fill="#000"/>
<path d="M655.69,696.3 L661.14,706.6 L650.24,706.6Z" fill="#000"/>
<text x="544" y="927" text-anchor="middle" font-size="14" font-weight="bold">Age, days</text>
<text transform="translate(369,742) rotate(-90) scale(1,1)" text-anchor="middle" font-size="14" font-weight="bold">Intake of feed,, %</text>
<text x="479.2" y="675" text-anchor="middle" font-size="11.05" font-weight="bold">Pre-weaning period</text>
<text x="597.8" y="674.5" text-anchor="middle" font-size="11.05" font-weight="bold">After weaning</text>
<text x="671" y="671.5" font-size="17.5" font-weight="bold" font-style="italic" fill="#000">f</text>
<text x="430.4" y="810.1" text-anchor="middle" font-size="11.3" font-weight="bold">a</text>
<text x="452.3" y="801.3" text-anchor="middle" font-size="11.3" font-weight="bold">ns</text>
<text x="472.8" y="769.8" text-anchor="middle" font-size="11.3" font-weight="bold">ns</text>
<text x="499.1" y="773.6" text-anchor="middle" font-size="11.3" font-weight="bold">ns</text>
<text x="520.3" y="766.7" text-anchor="middle" font-size="11.3" font-weight="bold">a</text>
<text x="521.4" y="792" text-anchor="middle" font-size="11.3" font-weight="bold">ab</text>
<text x="542.6" y="741.2" text-anchor="middle" font-size="11.3" font-weight="bold">ns</text>
<text x="421.7" y="839.4" text-anchor="middle" font-size="11.3" font-weight="bold">b</text>
<text x="428.4" y="863" text-anchor="middle" font-size="11.3" font-weight="bold">b</text>
<text x="518.6" y="828.6" text-anchor="middle" font-size="11.3" font-weight="bold">b</text>
<text x="562.5" y="724.9" text-anchor="middle" font-size="11.3" font-weight="bold">ns</text>
<text x="585.1" y="729.4" text-anchor="middle" font-size="11.3" font-weight="bold">ns</text>
<text x="608" y="708.5" text-anchor="middle" font-size="11.3" font-weight="bold">a</text>
<text x="607.2" y="739.2" text-anchor="middle" font-size="11.3" font-weight="bold">b</text>
<text x="614.3" y="759.3" text-anchor="middle" font-size="11.3" font-weight="bold">b</text>
<text x="638.6" y="689.9" text-anchor="middle" font-size="11.3" font-weight="bold">ns</text>
<text x="658.7" y="675.4" text-anchor="middle" font-size="11.3" font-weight="bold">a</text>
<text x="674.6" y="700.2" text-anchor="middle" font-size="11.3" font-weight="bold">ab</text>
<text x="655" y="719.1" text-anchor="middle" font-size="11.3" font-weight="bold">b</text>
<line x1="412.5" y1="953.5" x2="453.2" y2="953.5" stroke="#000" stroke-width="1.6"/>
<rect x="428.89" y="949.54" width="7.92" height="7.92" fill="#fff"/><path d="M429.19,949.84 L436.51,957.16 M429.19,957.16 L436.51,949.84 M432.85,949.84 L432.85,957.16" stroke="#000" stroke-width="1.1" fill="none"/>
<text x="457" y="958.54" font-size="14">AW</text>
<line x1="501.7" y1="953.5" x2="543.5" y2="953.5" stroke="#000" stroke-width="1.5" stroke-dasharray="1.45 1.45"/>
<path d="M522.6,948.66 L527.44,953.5 L522.6,958.34 L517.76,953.5Z" fill="#000"/>
<text x="547" y="958.54" font-size="14">NS</text>
<line x1="588" y1="953.5" x2="629" y2="953.5" stroke="#000" stroke-width="2" stroke-dasharray="4.6 2.6"/>
<path d="M608.5,948.84 L613.51,958.16 L603.49,958.16Z" fill="#000"/>
<text x="632.5" y="958.54" font-size="14">DS</text>
</g>
</svg>
</body></html>
